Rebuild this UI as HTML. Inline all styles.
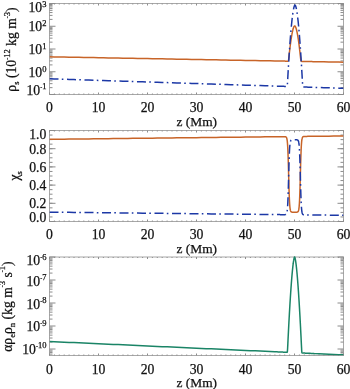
<!DOCTYPE html>
<html><head><meta charset="utf-8"><style>
html,body{margin:0;padding:0;background:#fff;}
svg{display:block;}
.t{font-family:"Liberation Serif","DejaVu Serif",serif;font-size:13.7px;fill:#111;stroke:#111;stroke-width:0.25px;}
.s{font-size:8.5px;}
.m{font-size:6px;}
</style></head><body>
<svg width="350" height="389" viewBox="0 0 350 389">
<rect width="350" height="389" fill="#fff"/>
<defs><clipPath id="c1"><rect x="49.5" y="2.5" width="294.0" height="92.0"/></clipPath><clipPath id="c2"><rect x="49.5" y="129.5" width="294.0" height="92.0"/></clipPath><clipPath id="c3"><rect x="49.5" y="256.0" width="294.0" height="99.5"/></clipPath></defs>
<rect x="49.5" y="3.5" width="294.0" height="91.0" fill="none" stroke="#a8a8a8" stroke-width="1"/>
<path d="M49.50,94.5v-2.0M49.50,3.5v2.0M54.40,94.5v-1.0M54.40,3.5v1.0M59.30,94.5v-1.0M59.30,3.5v1.0M64.20,94.5v-1.0M64.20,3.5v1.0M69.10,94.5v-1.0M69.10,3.5v1.0M74.00,94.5v-1.0M74.00,3.5v1.0M78.90,94.5v-1.0M78.90,3.5v1.0M83.80,94.5v-1.0M83.80,3.5v1.0M88.70,94.5v-1.0M88.70,3.5v1.0M93.60,94.5v-1.0M93.60,3.5v1.0M98.50,94.5v-2.0M98.50,3.5v2.0M103.40,94.5v-1.0M103.40,3.5v1.0M108.30,94.5v-1.0M108.30,3.5v1.0M113.20,94.5v-1.0M113.20,3.5v1.0M118.10,94.5v-1.0M118.10,3.5v1.0M123.00,94.5v-1.0M123.00,3.5v1.0M127.90,94.5v-1.0M127.90,3.5v1.0M132.80,94.5v-1.0M132.80,3.5v1.0M137.70,94.5v-1.0M137.70,3.5v1.0M142.60,94.5v-1.0M142.60,3.5v1.0M147.50,94.5v-2.0M147.50,3.5v2.0M152.40,94.5v-1.0M152.40,3.5v1.0M157.30,94.5v-1.0M157.30,3.5v1.0M162.20,94.5v-1.0M162.20,3.5v1.0M167.10,94.5v-1.0M167.10,3.5v1.0M172.00,94.5v-1.0M172.00,3.5v1.0M176.90,94.5v-1.0M176.90,3.5v1.0M181.80,94.5v-1.0M181.80,3.5v1.0M186.70,94.5v-1.0M186.70,3.5v1.0M191.60,94.5v-1.0M191.60,3.5v1.0M196.50,94.5v-2.0M196.50,3.5v2.0M201.40,94.5v-1.0M201.40,3.5v1.0M206.30,94.5v-1.0M206.30,3.5v1.0M211.20,94.5v-1.0M211.20,3.5v1.0M216.10,94.5v-1.0M216.10,3.5v1.0M221.00,94.5v-1.0M221.00,3.5v1.0M225.90,94.5v-1.0M225.90,3.5v1.0M230.80,94.5v-1.0M230.80,3.5v1.0M235.70,94.5v-1.0M235.70,3.5v1.0M240.60,94.5v-1.0M240.60,3.5v1.0M245.50,94.5v-2.0M245.50,3.5v2.0M250.40,94.5v-1.0M250.40,3.5v1.0M255.30,94.5v-1.0M255.30,3.5v1.0M260.20,94.5v-1.0M260.20,3.5v1.0M265.10,94.5v-1.0M265.10,3.5v1.0M270.00,94.5v-1.0M270.00,3.5v1.0M274.90,94.5v-1.0M274.90,3.5v1.0M279.80,94.5v-1.0M279.80,3.5v1.0M284.70,94.5v-1.0M284.70,3.5v1.0M289.60,94.5v-1.0M289.60,3.5v1.0M294.50,94.5v-2.0M294.50,3.5v2.0M299.40,94.5v-1.0M299.40,3.5v1.0M304.30,94.5v-1.0M304.30,3.5v1.0M309.20,94.5v-1.0M309.20,3.5v1.0M314.10,94.5v-1.0M314.10,3.5v1.0M319.00,94.5v-1.0M319.00,3.5v1.0M323.90,94.5v-1.0M323.90,3.5v1.0M328.80,94.5v-1.0M328.80,3.5v1.0M333.70,94.5v-1.0M333.70,3.5v1.0M338.60,94.5v-1.0M338.60,3.5v1.0M343.50,94.5v-2.0M343.50,3.5v2.0" stroke="#8c8c8c" stroke-width="1" fill="none"/>
<path d="M49.5,94.50h6M343.5,94.50h-6M49.5,71.75h6M343.5,71.75h-6M49.5,49.00h6M343.5,49.00h-6M49.5,26.25h6M343.5,26.25h-6M49.5,3.50h6M343.5,3.50h-6M49.5,87.65h3M343.5,87.65h-3M49.5,83.65h3M343.5,83.65h-3M49.5,80.80h3M343.5,80.80h-3M49.5,78.60h3M343.5,78.60h-3M49.5,76.80h3M343.5,76.80h-3M49.5,75.27h3M343.5,75.27h-3M49.5,73.95h3M343.5,73.95h-3M49.5,72.79h3M343.5,72.79h-3M49.5,64.90h3M343.5,64.90h-3M49.5,60.90h3M343.5,60.90h-3M49.5,58.05h3M343.5,58.05h-3M49.5,55.85h3M343.5,55.85h-3M49.5,54.05h3M343.5,54.05h-3M49.5,52.52h3M343.5,52.52h-3M49.5,51.20h3M343.5,51.20h-3M49.5,50.04h3M343.5,50.04h-3M49.5,42.15h3M343.5,42.15h-3M49.5,38.15h3M343.5,38.15h-3M49.5,35.30h3M343.5,35.30h-3M49.5,33.10h3M343.5,33.10h-3M49.5,31.30h3M343.5,31.30h-3M49.5,29.77h3M343.5,29.77h-3M49.5,28.45h3M343.5,28.45h-3M49.5,27.29h3M343.5,27.29h-3M49.5,19.40h3M343.5,19.40h-3M49.5,15.40h3M343.5,15.40h-3M49.5,12.55h3M343.5,12.55h-3M49.5,10.35h3M343.5,10.35h-3M49.5,8.55h3M343.5,8.55h-3M49.5,7.02h3M343.5,7.02h-3M49.5,5.70h3M343.5,5.70h-3M49.5,4.54h3M343.5,4.54h-3" stroke="#8c8c8c" stroke-width="1" fill="none"/>
<rect x="49.5" y="130.5" width="294.0" height="91.0" fill="none" stroke="#a8a8a8" stroke-width="1"/>
<path d="M49.50,221.5v-2.0M49.50,130.5v2.0M54.40,221.5v-1.0M54.40,130.5v1.0M59.30,221.5v-1.0M59.30,130.5v1.0M64.20,221.5v-1.0M64.20,130.5v1.0M69.10,221.5v-1.0M69.10,130.5v1.0M74.00,221.5v-1.0M74.00,130.5v1.0M78.90,221.5v-1.0M78.90,130.5v1.0M83.80,221.5v-1.0M83.80,130.5v1.0M88.70,221.5v-1.0M88.70,130.5v1.0M93.60,221.5v-1.0M93.60,130.5v1.0M98.50,221.5v-2.0M98.50,130.5v2.0M103.40,221.5v-1.0M103.40,130.5v1.0M108.30,221.5v-1.0M108.30,130.5v1.0M113.20,221.5v-1.0M113.20,130.5v1.0M118.10,221.5v-1.0M118.10,130.5v1.0M123.00,221.5v-1.0M123.00,130.5v1.0M127.90,221.5v-1.0M127.90,130.5v1.0M132.80,221.5v-1.0M132.80,130.5v1.0M137.70,221.5v-1.0M137.70,130.5v1.0M142.60,221.5v-1.0M142.60,130.5v1.0M147.50,221.5v-2.0M147.50,130.5v2.0M152.40,221.5v-1.0M152.40,130.5v1.0M157.30,221.5v-1.0M157.30,130.5v1.0M162.20,221.5v-1.0M162.20,130.5v1.0M167.10,221.5v-1.0M167.10,130.5v1.0M172.00,221.5v-1.0M172.00,130.5v1.0M176.90,221.5v-1.0M176.90,130.5v1.0M181.80,221.5v-1.0M181.80,130.5v1.0M186.70,221.5v-1.0M186.70,130.5v1.0M191.60,221.5v-1.0M191.60,130.5v1.0M196.50,221.5v-2.0M196.50,130.5v2.0M201.40,221.5v-1.0M201.40,130.5v1.0M206.30,221.5v-1.0M206.30,130.5v1.0M211.20,221.5v-1.0M211.20,130.5v1.0M216.10,221.5v-1.0M216.10,130.5v1.0M221.00,221.5v-1.0M221.00,130.5v1.0M225.90,221.5v-1.0M225.90,130.5v1.0M230.80,221.5v-1.0M230.80,130.5v1.0M235.70,221.5v-1.0M235.70,130.5v1.0M240.60,221.5v-1.0M240.60,130.5v1.0M245.50,221.5v-2.0M245.50,130.5v2.0M250.40,221.5v-1.0M250.40,130.5v1.0M255.30,221.5v-1.0M255.30,130.5v1.0M260.20,221.5v-1.0M260.20,130.5v1.0M265.10,221.5v-1.0M265.10,130.5v1.0M270.00,221.5v-1.0M270.00,130.5v1.0M274.90,221.5v-1.0M274.90,130.5v1.0M279.80,221.5v-1.0M279.80,130.5v1.0M284.70,221.5v-1.0M284.70,130.5v1.0M289.60,221.5v-1.0M289.60,130.5v1.0M294.50,221.5v-2.0M294.50,130.5v2.0M299.40,221.5v-1.0M299.40,130.5v1.0M304.30,221.5v-1.0M304.30,130.5v1.0M309.20,221.5v-1.0M309.20,130.5v1.0M314.10,221.5v-1.0M314.10,130.5v1.0M319.00,221.5v-1.0M319.00,130.5v1.0M323.90,221.5v-1.0M323.90,130.5v1.0M328.80,221.5v-1.0M328.80,130.5v1.0M333.70,221.5v-1.0M333.70,130.5v1.0M338.60,221.5v-1.0M338.60,130.5v1.0M343.50,221.5v-2.0M343.50,130.5v2.0" stroke="#8c8c8c" stroke-width="1" fill="none"/>
<path d="M49.5,221.50h6M343.5,221.50h-6M49.5,203.30h6M343.5,203.30h-6M49.5,185.10h6M343.5,185.10h-6M49.5,166.90h6M343.5,166.90h-6M49.5,148.70h6M343.5,148.70h-6M49.5,130.50h6M343.5,130.50h-6M49.5,221.50h3M343.5,221.50h-3M49.5,216.95h3M343.5,216.95h-3M49.5,212.40h3M343.5,212.40h-3M49.5,207.85h3M343.5,207.85h-3M49.5,203.30h3M343.5,203.30h-3M49.5,198.75h3M343.5,198.75h-3M49.5,194.20h3M343.5,194.20h-3M49.5,189.65h3M343.5,189.65h-3M49.5,185.10h3M343.5,185.10h-3M49.5,180.55h3M343.5,180.55h-3M49.5,176.00h3M343.5,176.00h-3M49.5,171.45h3M343.5,171.45h-3M49.5,166.90h3M343.5,166.90h-3M49.5,162.35h3M343.5,162.35h-3M49.5,157.80h3M343.5,157.80h-3M49.5,153.25h3M343.5,153.25h-3M49.5,148.70h3M343.5,148.70h-3M49.5,144.15h3M343.5,144.15h-3M49.5,139.60h3M343.5,139.60h-3M49.5,135.05h3M343.5,135.05h-3M49.5,130.50h3M343.5,130.50h-3" stroke="#8c8c8c" stroke-width="1" fill="none"/>
<rect x="49.5" y="257.0" width="294.0" height="98.5" fill="none" stroke="#a8a8a8" stroke-width="1"/>
<path d="M49.50,355.5v-2.0M49.50,257.0v2.0M54.40,355.5v-1.0M54.40,257.0v1.0M59.30,355.5v-1.0M59.30,257.0v1.0M64.20,355.5v-1.0M64.20,257.0v1.0M69.10,355.5v-1.0M69.10,257.0v1.0M74.00,355.5v-1.0M74.00,257.0v1.0M78.90,355.5v-1.0M78.90,257.0v1.0M83.80,355.5v-1.0M83.80,257.0v1.0M88.70,355.5v-1.0M88.70,257.0v1.0M93.60,355.5v-1.0M93.60,257.0v1.0M98.50,355.5v-2.0M98.50,257.0v2.0M103.40,355.5v-1.0M103.40,257.0v1.0M108.30,355.5v-1.0M108.30,257.0v1.0M113.20,355.5v-1.0M113.20,257.0v1.0M118.10,355.5v-1.0M118.10,257.0v1.0M123.00,355.5v-1.0M123.00,257.0v1.0M127.90,355.5v-1.0M127.90,257.0v1.0M132.80,355.5v-1.0M132.80,257.0v1.0M137.70,355.5v-1.0M137.70,257.0v1.0M142.60,355.5v-1.0M142.60,257.0v1.0M147.50,355.5v-2.0M147.50,257.0v2.0M152.40,355.5v-1.0M152.40,257.0v1.0M157.30,355.5v-1.0M157.30,257.0v1.0M162.20,355.5v-1.0M162.20,257.0v1.0M167.10,355.5v-1.0M167.10,257.0v1.0M172.00,355.5v-1.0M172.00,257.0v1.0M176.90,355.5v-1.0M176.90,257.0v1.0M181.80,355.5v-1.0M181.80,257.0v1.0M186.70,355.5v-1.0M186.70,257.0v1.0M191.60,355.5v-1.0M191.60,257.0v1.0M196.50,355.5v-2.0M196.50,257.0v2.0M201.40,355.5v-1.0M201.40,257.0v1.0M206.30,355.5v-1.0M206.30,257.0v1.0M211.20,355.5v-1.0M211.20,257.0v1.0M216.10,355.5v-1.0M216.10,257.0v1.0M221.00,355.5v-1.0M221.00,257.0v1.0M225.90,355.5v-1.0M225.90,257.0v1.0M230.80,355.5v-1.0M230.80,257.0v1.0M235.70,355.5v-1.0M235.70,257.0v1.0M240.60,355.5v-1.0M240.60,257.0v1.0M245.50,355.5v-2.0M245.50,257.0v2.0M250.40,355.5v-1.0M250.40,257.0v1.0M255.30,355.5v-1.0M255.30,257.0v1.0M260.20,355.5v-1.0M260.20,257.0v1.0M265.10,355.5v-1.0M265.10,257.0v1.0M270.00,355.5v-1.0M270.00,257.0v1.0M274.90,355.5v-1.0M274.90,257.0v1.0M279.80,355.5v-1.0M279.80,257.0v1.0M284.70,355.5v-1.0M284.70,257.0v1.0M289.60,355.5v-1.0M289.60,257.0v1.0M294.50,355.5v-2.0M294.50,257.0v2.0M299.40,355.5v-1.0M299.40,257.0v1.0M304.30,355.5v-1.0M304.30,257.0v1.0M309.20,355.5v-1.0M309.20,257.0v1.0M314.10,355.5v-1.0M314.10,257.0v1.0M319.00,355.5v-1.0M319.00,257.0v1.0M323.90,355.5v-1.0M323.90,257.0v1.0M328.80,355.5v-1.0M328.80,257.0v1.0M333.70,355.5v-1.0M333.70,257.0v1.0M338.60,355.5v-1.0M338.60,257.0v1.0M343.50,355.5v-2.0M343.50,257.0v2.0" stroke="#8c8c8c" stroke-width="1" fill="none"/>
<path d="M49.5,349.00h6M343.5,349.00h-6M49.5,326.00h6M343.5,326.00h-6M49.5,303.00h6M343.5,303.00h-6M49.5,280.00h6M343.5,280.00h-6M49.5,257.00h6M343.5,257.00h-6M49.5,354.10h3M343.5,354.10h-3M49.5,352.56h3M343.5,352.56h-3M49.5,351.23h3M343.5,351.23h-3M49.5,350.05h3M343.5,350.05h-3M49.5,342.08h3M343.5,342.08h-3M49.5,338.03h3M343.5,338.03h-3M49.5,335.15h3M343.5,335.15h-3M49.5,332.92h3M343.5,332.92h-3M49.5,331.10h3M343.5,331.10h-3M49.5,329.56h3M343.5,329.56h-3M49.5,328.23h3M343.5,328.23h-3M49.5,327.05h3M343.5,327.05h-3M49.5,319.08h3M343.5,319.08h-3M49.5,315.03h3M343.5,315.03h-3M49.5,312.15h3M343.5,312.15h-3M49.5,309.92h3M343.5,309.92h-3M49.5,308.10h3M343.5,308.10h-3M49.5,306.56h3M343.5,306.56h-3M49.5,305.23h3M343.5,305.23h-3M49.5,304.05h3M343.5,304.05h-3M49.5,296.08h3M343.5,296.08h-3M49.5,292.03h3M343.5,292.03h-3M49.5,289.15h3M343.5,289.15h-3M49.5,286.92h3M343.5,286.92h-3M49.5,285.10h3M343.5,285.10h-3M49.5,283.56h3M343.5,283.56h-3M49.5,282.23h3M343.5,282.23h-3M49.5,281.05h3M343.5,281.05h-3M49.5,273.08h3M343.5,273.08h-3M49.5,269.03h3M343.5,269.03h-3M49.5,266.15h3M343.5,266.15h-3M49.5,263.92h3M343.5,263.92h-3M49.5,262.10h3M343.5,262.10h-3M49.5,260.56h3M343.5,260.56h-3M49.5,259.23h3M343.5,259.23h-3M49.5,258.05h3M343.5,258.05h-3" stroke="#8c8c8c" stroke-width="1" fill="none"/>
<g clip-path="url(#c1)" fill="none" stroke-width="1.5" stroke-linejoin="round"><path d="M49.50,56.80 L54.40,56.89 L59.30,56.98 L64.20,57.07 L69.10,57.16 L74.00,57.25 L78.90,57.34 L83.80,57.43 L88.70,57.52 L93.60,57.61 L98.50,57.70 L103.40,57.79 L108.30,57.88 L113.20,57.97 L118.10,58.06 L123.00,58.15 L127.90,58.24 L132.80,58.33 L137.70,58.42 L142.60,58.51 L147.50,58.60 L152.40,58.69 L157.30,58.78 L162.20,58.87 L167.10,58.96 L172.00,59.05 L176.90,59.14 L181.80,59.23 L186.70,59.32 L191.60,59.41 L196.50,59.50 L201.40,59.59 L206.30,59.68 L211.20,59.77 L216.10,59.86 L221.00,59.95 L225.90,60.04 L230.80,60.13 L235.70,60.22 L240.60,60.31 L245.50,60.40 L250.40,60.49 L255.30,60.58 L260.20,60.67 L265.10,60.76 L270.00,60.85 L274.90,60.94 L274.95,60.94 L275.00,60.94 L275.05,60.94 L275.10,60.94 L275.14,60.94 L275.19,60.94 L275.24,60.94 L275.29,60.94 L275.34,60.95 L275.39,60.95 L275.44,60.95 L275.49,60.95 L275.54,60.95 L275.59,60.95 L275.63,60.95 L275.68,60.95 L275.73,60.95 L275.78,60.95 L275.83,60.95 L275.88,60.95 L275.93,60.96 L275.98,60.96 L276.03,60.96 L276.08,60.96 L276.12,60.96 L276.17,60.96 L276.22,60.96 L276.27,60.96 L276.32,60.96 L276.37,60.96 L276.42,60.96 L276.47,60.97 L276.52,60.97 L276.57,60.97 L276.62,60.97 L276.66,60.97 L276.71,60.97 L276.76,60.97 L276.81,60.97 L276.86,60.97 L276.91,60.97 L276.96,60.97 L277.01,60.98 L277.06,60.98 L277.11,60.98 L277.15,60.98 L277.20,60.98 L277.25,60.98 L277.30,60.98 L277.35,60.98 L277.40,60.98 L277.45,60.98 L277.50,60.98 L277.55,60.99 L277.60,60.99 L277.64,60.99 L277.69,60.99 L277.74,60.99 L277.79,60.99 L277.84,60.99 L277.89,60.99 L277.94,60.99 L277.99,60.99 L278.04,60.99 L278.09,61.00 L278.13,61.00 L278.18,61.00 L278.23,61.00 L278.28,61.00 L278.33,61.00 L278.38,61.00 L278.43,61.00 L278.48,61.00 L278.53,61.00 L278.58,61.00 L278.62,61.01 L278.67,61.01 L278.72,61.01 L278.77,61.01 L278.82,61.01 L278.87,61.01 L278.92,61.01 L278.97,61.01 L279.02,61.01 L279.07,61.01 L279.11,61.01 L279.16,61.02 L279.21,61.02 L279.26,61.02 L279.31,61.02 L279.36,61.02 L279.41,61.02 L279.46,61.02 L279.51,61.02 L279.56,61.02 L279.60,61.02 L279.65,61.02 L279.70,61.02 L279.75,61.03 L279.80,61.03 L279.85,61.03 L279.90,61.03 L279.95,61.03 L280.00,61.03 L280.05,61.03 L280.09,61.03 L280.14,61.03 L280.19,61.03 L280.24,61.03 L280.29,61.04 L280.34,61.04 L280.39,61.04 L280.44,61.04 L280.49,61.04 L280.53,61.04 L280.58,61.04 L280.63,61.04 L280.68,61.04 L280.73,61.04 L280.78,61.04 L280.83,61.05 L280.88,61.05 L280.93,61.05 L280.98,61.05 L281.02,61.05 L281.07,61.05 L281.12,61.05 L281.17,61.05 L281.22,61.05 L281.27,61.05 L281.32,61.05 L281.37,61.06 L281.42,61.06 L281.47,61.06 L281.51,61.06 L281.56,61.06 L281.61,61.06 L281.66,61.06 L281.71,61.06 L281.76,61.06 L281.81,61.06 L281.86,61.06 L281.91,61.07 L281.96,61.07 L282.00,61.07 L282.05,61.07 L282.10,61.07 L282.15,61.07 L282.20,61.07 L282.25,61.07 L282.30,61.07 L282.35,61.07 L282.40,61.07 L282.45,61.08 L282.50,61.08 L282.54,61.08 L282.59,61.08 L282.64,61.08 L282.69,61.08 L282.74,61.08 L282.79,61.08 L282.84,61.08 L282.89,61.08 L282.94,61.08 L282.99,61.09 L283.03,61.09 L283.08,61.09 L283.13,61.09 L283.18,61.09 L283.23,61.09 L283.28,61.09 L283.33,61.09 L283.38,61.09 L283.43,61.09 L283.48,61.09 L283.52,61.10 L283.57,61.10 L283.62,61.10 L283.67,61.10 L283.72,61.10 L283.77,61.10 L283.82,61.10 L283.87,61.10 L283.92,61.10 L283.97,61.10 L284.01,61.10 L284.06,61.10 L284.11,61.11 L284.16,61.11 L284.21,61.11 L284.26,61.11 L284.31,61.11 L284.36,61.11 L284.41,61.11 L284.46,61.11 L284.50,61.11 L284.55,61.11 L284.60,61.11 L284.65,61.12 L284.70,61.12 L284.75,61.12 L284.80,61.12 L284.85,61.12 L284.90,61.12 L284.94,61.12 L284.99,61.12 L285.04,61.12 L285.09,61.12 L285.14,61.12 L285.19,61.13 L285.24,61.13 L285.29,61.13 L285.34,61.13 L285.39,61.13 L285.44,61.13 L285.48,61.13 L285.53,61.13 L285.58,61.13 L285.63,61.13 L285.68,61.13 L285.73,61.14 L285.78,61.14 L285.83,61.14 L285.88,61.14 L285.93,61.14 L285.97,61.14 L286.02,61.14 L286.07,61.14 L286.12,61.14 L286.17,61.14 L286.22,61.14 L286.27,61.15 L286.32,61.15 L286.37,61.15 L286.42,61.15 L286.46,61.15 L286.51,61.15 L286.56,61.15 L286.61,61.15 L286.66,61.15 L286.71,61.15 L286.76,61.15 L286.81,61.16 L286.86,61.16 L286.91,61.16 L286.95,61.16 L287.00,61.16 L287.05,61.16 L287.10,61.16 L287.15,61.16 L287.20,61.16 L287.25,61.16 L287.30,61.16 L287.35,61.16 L287.39,61.16 L287.44,61.16 L287.49,61.16 L287.54,61.16 L287.59,61.16 L287.64,61.16 L287.69,61.15 L287.74,61.15 L287.79,61.14 L287.84,61.13 L287.88,61.12 L287.93,61.10 L287.98,61.08 L288.03,61.05 L288.08,61.01 L288.13,60.97 L288.18,60.91 L288.23,60.83 L288.28,60.73 L288.33,60.62 L288.38,60.48 L288.42,60.31 L288.47,60.11 L288.52,59.88 L288.57,59.62 L288.62,59.33 L288.67,59.02 L288.72,58.67 L288.77,58.31 L288.82,57.92 L288.87,57.52 L288.91,57.11 L288.96,56.68 L289.01,56.25 L289.06,55.82 L289.11,55.38 L289.16,54.93 L289.21,54.49 L289.26,54.04 L289.31,53.60 L289.36,53.15 L289.40,52.71 L289.45,52.27 L289.50,51.83 L289.55,51.40 L289.60,50.97 L289.65,50.54 L289.70,50.11 L289.75,49.68 L289.80,49.26 L289.85,48.85 L289.89,48.43 L289.94,48.02 L289.99,47.61 L290.04,47.21 L290.09,46.81 L290.14,46.41 L290.19,46.01 L290.24,45.62 L290.29,45.23 L290.34,44.85 L290.38,44.47 L290.43,44.09 L290.48,43.71 L290.53,43.34 L290.58,42.98 L290.63,42.61 L290.68,42.25 L290.73,41.89 L290.78,41.54 L290.83,41.19 L290.87,40.84 L290.92,40.50 L290.97,40.16 L291.02,39.83 L291.07,39.49 L291.12,39.17 L291.17,38.84 L291.22,38.52 L291.27,38.20 L291.32,37.89 L291.36,37.58 L291.41,37.27 L291.46,36.97 L291.51,36.67 L291.56,36.37 L291.61,36.08 L291.66,35.79 L291.71,35.50 L291.76,35.22 L291.81,34.95 L291.85,34.67 L291.90,34.40 L291.95,34.14 L292.00,33.87 L292.05,33.61 L292.10,33.36 L292.15,33.11 L292.20,32.86 L292.25,32.62 L292.30,32.38 L292.34,32.14 L292.39,31.91 L292.44,31.68 L292.49,31.46 L292.54,31.24 L292.59,31.02 L292.64,30.81 L292.69,30.60 L292.74,30.40 L292.78,30.20 L292.83,30.00 L292.88,29.81 L292.93,29.62 L292.98,29.44 L293.03,29.26 L293.08,29.08 L293.13,28.91 L293.18,28.75 L293.23,28.58 L293.27,28.43 L293.32,28.27 L293.37,28.12 L293.42,27.98 L293.47,27.84 L293.52,27.70 L293.57,27.57 L293.62,27.44 L293.67,27.32 L293.72,27.20 L293.76,27.08 L293.81,26.98 L293.86,26.87 L293.91,26.77 L293.96,26.68 L294.01,26.59 L294.06,26.50 L294.11,26.42 L294.16,26.35 L294.21,26.28 L294.25,26.22 L294.30,26.16 L294.35,26.10 L294.40,26.06 L294.45,26.02 L294.50,25.98 L294.55,25.95 L294.60,25.93 L294.65,25.91 L294.70,25.91 L294.75,25.91 L294.79,25.93 L294.84,25.95 L294.89,25.98 L294.94,26.02 L294.99,26.06 L295.04,26.10 L295.09,26.16 L295.14,26.22 L295.19,26.28 L295.24,26.35 L295.28,26.42 L295.33,26.50 L295.38,26.59 L295.43,26.68 L295.48,26.77 L295.53,26.87 L295.58,26.98 L295.63,27.08 L295.68,27.20 L295.73,27.32 L295.77,27.44 L295.82,27.57 L295.87,27.70 L295.92,27.84 L295.97,27.98 L296.02,28.12 L296.07,28.27 L296.12,28.43 L296.17,28.58 L296.22,28.75 L296.26,28.91 L296.31,29.08 L296.36,29.26 L296.41,29.44 L296.46,29.62 L296.51,29.81 L296.56,30.00 L296.61,30.20 L296.66,30.40 L296.71,30.60 L296.75,30.81 L296.80,31.02 L296.85,31.24 L296.90,31.46 L296.95,31.68 L297.00,31.91 L297.05,32.14 L297.10,32.38 L297.15,32.62 L297.19,32.86 L297.24,33.11 L297.29,33.36 L297.34,33.61 L297.39,33.87 L297.44,34.14 L297.49,34.40 L297.54,34.67 L297.59,34.95 L297.64,35.22 L297.69,35.50 L297.73,35.79 L297.78,36.08 L297.83,36.37 L297.88,36.67 L297.93,36.97 L297.98,37.27 L298.03,37.58 L298.08,37.89 L298.13,38.20 L298.18,38.52 L298.22,38.84 L298.27,39.17 L298.32,39.49 L298.37,39.83 L298.42,40.16 L298.47,40.50 L298.52,40.84 L298.57,41.19 L298.62,41.54 L298.67,41.89 L298.71,42.25 L298.76,42.61 L298.81,42.98 L298.86,43.34 L298.91,43.71 L298.96,44.09 L299.01,44.47 L299.06,44.85 L299.11,45.23 L299.16,45.62 L299.20,46.01 L299.25,46.41 L299.30,46.81 L299.35,47.21 L299.40,47.61 L299.45,48.02 L299.50,48.43 L299.55,48.85 L299.60,49.26 L299.64,49.69 L299.69,50.11 L299.74,50.54 L299.79,50.97 L299.84,51.40 L299.89,51.84 L299.94,52.27 L299.99,52.71 L300.04,53.16 L300.09,53.60 L300.13,54.05 L300.18,54.49 L300.23,54.94 L300.28,55.39 L300.33,55.83 L300.38,56.27 L300.43,56.71 L300.48,57.13 L300.53,57.55 L300.58,57.96 L300.62,58.36 L300.67,58.73 L300.72,59.09 L300.77,59.42 L300.82,59.72 L300.87,60.00 L300.92,60.24 L300.97,60.45 L301.02,60.64 L301.07,60.79 L301.12,60.92 L301.16,61.03 L301.21,61.11 L301.26,61.18 L301.31,61.24 L301.36,61.28 L301.41,61.31 L301.46,61.34 L301.51,61.36 L301.56,61.38 L301.61,61.39 L301.65,61.40 L301.70,61.41 L301.75,61.41 L301.80,61.42 L301.85,61.42 L301.90,61.43 L301.95,61.43 L302.00,61.43 L302.05,61.43 L302.10,61.43 L302.14,61.43 L302.19,61.44 L302.24,61.44 L302.29,61.44 L302.34,61.44 L302.39,61.44 L302.44,61.44 L302.49,61.44 L302.54,61.44 L302.59,61.44 L302.63,61.45 L302.68,61.45 L302.73,61.45 L302.78,61.45 L302.83,61.45 L302.88,61.45 L302.93,61.45 L302.98,61.45 L303.03,61.45 L303.08,61.45 L303.12,61.45 L303.17,61.46 L303.22,61.46 L303.27,61.46 L303.32,61.46 L303.37,61.46 L303.42,61.46 L303.47,61.46 L303.52,61.46 L303.57,61.46 L303.61,61.46 L303.66,61.46 L303.71,61.47 L303.76,61.47 L303.81,61.47 L303.86,61.47 L303.91,61.47 L303.96,61.47 L304.01,61.47 L304.06,61.47 L304.10,61.47 L304.15,61.47 L304.20,61.47 L304.25,61.48 L304.30,61.48 L304.35,61.48 L304.40,61.48 L304.45,61.48 L304.50,61.48 L304.55,61.48 L304.59,61.48 L304.64,61.48 L304.69,61.48 L304.74,61.48 L304.79,61.49 L304.84,61.49 L304.89,61.49 L304.94,61.49 L304.99,61.49 L305.04,61.49 L305.08,61.49 L305.13,61.49 L305.18,61.49 L305.23,61.49 L305.28,61.49 L305.33,61.49 L305.38,61.50 L305.43,61.50 L305.48,61.50 L305.53,61.50 L305.57,61.50 L305.62,61.50 L305.67,61.50 L305.72,61.50 L305.77,61.50 L305.82,61.50 L305.87,61.50 L305.92,61.51 L305.97,61.51 L306.02,61.51 L306.06,61.51 L306.11,61.51 L306.16,61.51 L306.21,61.51 L306.26,61.51 L306.31,61.51 L306.36,61.51 L306.41,61.51 L306.46,61.52 L306.51,61.52 L306.55,61.52 L306.60,61.52 L306.65,61.52 L306.70,61.52 L306.75,61.52 L306.80,61.52 L306.85,61.52 L306.90,61.52 L306.95,61.52 L307.00,61.53 L307.04,61.53 L307.09,61.53 L307.14,61.53 L307.19,61.53 L307.24,61.53 L307.29,61.53 L307.34,61.53 L307.39,61.53 L307.44,61.53 L307.49,61.53 L307.53,61.54 L307.58,61.54 L307.63,61.54 L307.68,61.54 L307.73,61.54 L307.78,61.54 L307.83,61.54 L307.88,61.54 L307.93,61.54 L307.98,61.54 L308.02,61.54 L308.07,61.55 L308.12,61.55 L308.17,61.55 L308.22,61.55 L308.27,61.55 L308.32,61.55 L308.37,61.55 L308.42,61.55 L308.47,61.55 L308.51,61.55 L308.56,61.55 L308.61,61.56 L308.66,61.56 L308.71,61.56 L308.76,61.56 L308.81,61.56 L308.86,61.56 L308.91,61.56 L308.96,61.56 L309.00,61.56 L309.05,61.56 L309.10,61.56 L309.15,61.57 L309.20,61.57 L309.25,61.57 L309.30,61.57 L309.35,61.57 L309.40,61.57 L309.44,61.57 L309.49,61.57 L309.54,61.57 L309.59,61.57 L309.64,61.57 L309.69,61.57 L309.74,61.58 L309.79,61.58 L309.84,61.58 L309.89,61.58 L309.94,61.58 L309.98,61.58 L310.03,61.58 L310.08,61.58 L310.13,61.58 L310.18,61.58 L310.23,61.58 L310.28,61.59 L310.33,61.59 L310.38,61.59 L310.43,61.59 L310.47,61.59 L310.52,61.59 L310.57,61.59 L310.62,61.59 L310.67,61.59 L310.72,61.59 L310.77,61.59 L310.82,61.60 L310.87,61.60 L310.92,61.60 L310.96,61.60 L311.01,61.60 L311.06,61.60 L311.11,61.60 L311.16,61.60 L311.21,61.60 L311.26,61.60 L311.31,61.60 L311.36,61.61 L311.41,61.61 L311.45,61.61 L311.50,61.61 L311.55,61.61 L311.60,61.61 L311.65,61.61 L311.70,61.61 L311.75,61.61 L311.80,61.61 L311.85,61.61 L311.89,61.62 L311.94,61.62 L311.99,61.62 L312.04,61.62 L312.09,61.62 L312.14,61.62 L312.19,61.62 L312.24,61.62 L312.29,61.62 L312.34,61.62 L312.38,61.62 L312.43,61.63 L312.48,61.63 L312.53,61.63 L312.58,61.63 L312.63,61.63 L312.68,61.63 L312.73,61.63 L312.78,61.63 L312.83,61.63 L312.88,61.63 L312.92,61.63 L312.97,61.64 L313.02,61.64 L313.07,61.64 L313.12,61.64 L313.17,61.64 L313.22,61.64 L313.27,61.64 L313.32,61.64 L313.37,61.64 L313.41,61.64 L313.46,61.64 L313.51,61.65 L313.56,61.65 L313.61,61.65 L313.66,61.65 L313.71,61.65 L313.76,61.65 L313.81,61.65 L313.86,61.65 L313.90,61.65 L313.95,61.65 L314.00,61.65 L314.05,61.65 L314.10,61.66 L319.00,61.75 L323.90,61.84 L328.80,61.93 L333.70,62.02 L338.60,62.11 L343.50,62.20" stroke="#c86428"/><path d="M49.50,78.80 L54.40,78.96 L59.30,79.12 L64.20,79.28 L69.10,79.43 L74.00,79.59 L78.90,79.75 L83.80,79.91 L88.70,80.07 L93.60,80.23 L98.50,80.38 L103.40,80.54 L108.30,80.70 L113.20,80.86 L118.10,81.02 L123.00,81.17 L127.90,81.33 L132.80,81.49 L137.70,81.65 L142.60,81.81 L147.50,81.96 L152.40,82.12 L157.30,82.28 L162.20,82.44 L167.10,82.60 L172.00,82.76 L176.90,82.91 L181.80,83.07 L186.70,83.23 L191.60,83.39 L196.50,83.55 L201.40,83.70 L206.30,83.86 L211.20,84.02 L216.10,84.18 L221.00,84.34 L225.90,84.49 L230.80,84.65 L235.70,84.81 L240.60,84.97 L245.50,85.13 L250.40,85.29 L255.30,85.44 L260.20,85.60 L265.10,85.76 L270.00,85.92 L274.90,86.08 L274.95,86.08 L275.00,86.08 L275.05,86.08 L275.10,86.08 L275.14,86.08 L275.19,86.09 L275.24,86.09 L275.29,86.09 L275.34,86.09 L275.39,86.09 L275.44,86.09 L275.49,86.09 L275.54,86.10 L275.59,86.10 L275.63,86.10 L275.68,86.10 L275.73,86.10 L275.78,86.10 L275.83,86.11 L275.88,86.11 L275.93,86.11 L275.98,86.11 L276.03,86.11 L276.08,86.11 L276.12,86.12 L276.17,86.12 L276.22,86.12 L276.27,86.12 L276.32,86.12 L276.37,86.12 L276.42,86.12 L276.47,86.13 L276.52,86.13 L276.57,86.13 L276.62,86.13 L276.66,86.13 L276.71,86.13 L276.76,86.14 L276.81,86.14 L276.86,86.14 L276.91,86.14 L276.96,86.14 L277.01,86.14 L277.06,86.15 L277.11,86.15 L277.15,86.15 L277.20,86.15 L277.25,86.15 L277.30,86.15 L277.35,86.15 L277.40,86.16 L277.45,86.16 L277.50,86.16 L277.55,86.16 L277.60,86.16 L277.64,86.16 L277.69,86.17 L277.74,86.17 L277.79,86.17 L277.84,86.17 L277.89,86.17 L277.94,86.17 L277.99,86.18 L278.04,86.18 L278.09,86.18 L278.13,86.18 L278.18,86.18 L278.23,86.18 L278.28,86.18 L278.33,86.19 L278.38,86.19 L278.43,86.19 L278.48,86.19 L278.53,86.19 L278.58,86.19 L278.62,86.20 L278.67,86.20 L278.72,86.20 L278.77,86.20 L278.82,86.20 L278.87,86.20 L278.92,86.21 L278.97,86.21 L279.02,86.21 L279.07,86.21 L279.11,86.21 L279.16,86.21 L279.21,86.21 L279.26,86.22 L279.31,86.22 L279.36,86.22 L279.41,86.22 L279.46,86.22 L279.51,86.22 L279.56,86.23 L279.60,86.23 L279.65,86.23 L279.70,86.23 L279.75,86.23 L279.80,86.23 L279.85,86.24 L279.90,86.24 L279.95,86.24 L280.00,86.24 L280.05,86.24 L280.09,86.24 L280.14,86.24 L280.19,86.25 L280.24,86.25 L280.29,86.25 L280.34,86.25 L280.39,86.25 L280.44,86.25 L280.49,86.26 L280.53,86.26 L280.58,86.26 L280.63,86.26 L280.68,86.26 L280.73,86.26 L280.78,86.27 L280.83,86.27 L280.88,86.27 L280.93,86.27 L280.98,86.27 L281.02,86.27 L281.07,86.27 L281.12,86.28 L281.17,86.28 L281.22,86.28 L281.27,86.28 L281.32,86.28 L281.37,86.28 L281.42,86.29 L281.47,86.29 L281.51,86.29 L281.56,86.29 L281.61,86.29 L281.66,86.29 L281.71,86.30 L281.76,86.30 L281.81,86.30 L281.86,86.30 L281.91,86.30 L281.96,86.30 L282.00,86.30 L282.05,86.31 L282.10,86.31 L282.15,86.31 L282.20,86.31 L282.25,86.31 L282.30,86.31 L282.35,86.32 L282.40,86.32 L282.45,86.32 L282.50,86.32 L282.54,86.32 L282.59,86.32 L282.64,86.33 L282.69,86.33 L282.74,86.33 L282.79,86.33 L282.84,86.33 L282.89,86.33 L282.94,86.33 L282.99,86.34 L283.03,86.34 L283.08,86.34 L283.13,86.34 L283.18,86.34 L283.23,86.34 L283.28,86.35 L283.33,86.35 L283.38,86.35 L283.43,86.35 L283.48,86.35 L283.52,86.35 L283.57,86.36 L283.62,86.36 L283.67,86.36 L283.72,86.36 L283.77,86.36 L283.82,86.36 L283.87,86.37 L283.92,86.37 L283.97,86.37 L284.01,86.37 L284.06,86.37 L284.11,86.37 L284.16,86.37 L284.21,86.38 L284.26,86.38 L284.31,86.38 L284.36,86.38 L284.41,86.38 L284.46,86.38 L284.50,86.39 L284.55,86.39 L284.60,86.39 L284.65,86.39 L284.70,86.39 L284.75,86.39 L284.80,86.40 L284.85,86.40 L284.90,86.40 L284.94,86.40 L284.99,86.40 L285.04,86.40 L285.09,86.40 L285.14,86.41 L285.19,86.41 L285.24,86.41 L285.29,86.41 L285.34,86.41 L285.39,86.41 L285.44,86.42 L285.48,86.42 L285.53,86.42 L285.58,86.42 L285.63,86.42 L285.68,86.42 L285.73,86.43 L285.78,86.43 L285.83,86.43 L285.88,86.43 L285.93,86.43 L285.97,86.43 L286.02,86.43 L286.07,86.44 L286.12,86.44 L286.17,86.44 L286.22,86.44 L286.27,86.44 L286.32,86.44 L286.37,86.45 L286.42,86.45 L286.46,86.45 L286.51,86.45 L286.56,86.45 L286.61,86.45 L286.66,86.45 L286.71,86.45 L286.76,86.45 L286.81,86.45 L286.86,86.44 L286.91,86.43 L286.95,86.41 L287.00,86.38 L287.05,86.33 L287.10,86.25 L287.15,86.13 L287.20,85.95 L287.25,85.69 L287.30,85.33 L287.35,84.86 L287.39,84.29 L287.44,83.62 L287.49,82.88 L287.54,82.09 L287.59,81.26 L287.64,80.40 L287.69,79.54 L287.74,78.66 L287.79,77.78 L287.84,76.90 L287.88,76.02 L287.93,75.15 L287.98,74.28 L288.03,73.41 L288.08,72.55 L288.13,71.69 L288.18,70.84 L288.23,69.99 L288.28,69.14 L288.33,68.31 L288.38,67.47 L288.42,66.64 L288.47,65.82 L288.52,65.00 L288.57,64.18 L288.62,63.37 L288.67,62.57 L288.72,61.77 L288.77,60.98 L288.82,60.19 L288.87,59.40 L288.91,58.62 L288.96,57.85 L289.01,57.08 L289.06,56.31 L289.11,55.55 L289.16,54.80 L289.21,54.05 L289.26,53.31 L289.31,52.57 L289.36,51.83 L289.40,51.10 L289.45,50.38 L289.50,49.66 L289.55,48.95 L289.60,48.24 L289.65,47.54 L289.70,46.84 L289.75,46.14 L289.80,45.46 L289.85,44.77 L289.89,44.10 L289.94,43.42 L289.99,42.76 L290.04,42.09 L290.09,41.44 L290.14,40.79 L290.19,40.14 L290.24,39.50 L290.29,38.86 L290.34,38.23 L290.38,37.61 L290.43,36.99 L290.48,36.37 L290.53,35.76 L290.58,35.16 L290.63,34.56 L290.68,33.97 L290.73,33.38 L290.78,32.80 L290.83,32.22 L290.87,31.65 L290.92,31.08 L290.97,30.52 L291.02,29.96 L291.07,29.41 L291.12,28.87 L291.17,28.33 L291.22,27.80 L291.27,27.27 L291.32,26.75 L291.36,26.23 L291.41,25.72 L291.46,25.21 L291.51,24.71 L291.56,24.22 L291.61,23.73 L291.66,23.25 L291.71,22.77 L291.76,22.30 L291.81,21.83 L291.85,21.37 L291.90,20.91 L291.95,20.46 L292.00,20.02 L292.05,19.58 L292.10,19.15 L292.15,18.73 L292.20,18.31 L292.25,17.89 L292.30,17.48 L292.34,17.08 L292.39,16.68 L292.44,16.29 L292.49,15.91 L292.54,15.53 L292.59,15.16 L292.64,14.79 L292.69,14.43 L292.74,14.08 L292.78,13.73 L292.83,13.38 L292.88,13.05 L292.93,12.72 L292.98,12.39 L293.03,12.08 L293.08,11.77 L293.13,11.46 L293.18,11.16 L293.23,10.87 L293.27,10.58 L293.32,10.31 L293.37,10.03 L293.42,9.77 L293.47,9.51 L293.52,9.25 L293.57,9.01 L293.62,8.77 L293.67,8.54 L293.72,8.31 L293.76,8.09 L293.81,7.88 L293.86,7.67 L293.91,7.47 L293.96,7.28 L294.01,7.10 L294.06,6.92 L294.11,6.75 L294.16,6.59 L294.21,6.43 L294.25,6.29 L294.30,6.15 L294.35,6.02 L294.40,5.89 L294.45,5.78 L294.50,5.67 L294.55,5.57 L294.60,5.48 L294.65,5.40 L294.70,5.32 L294.75,5.26 L294.79,5.20 L294.84,5.16 L294.89,5.12 L294.94,5.10 L294.99,5.09 L295.04,5.10 L295.09,5.12 L295.14,5.16 L295.19,5.20 L295.24,5.26 L295.28,5.32 L295.33,5.40 L295.38,5.48 L295.43,5.57 L295.48,5.67 L295.53,5.78 L295.58,5.89 L295.63,6.02 L295.68,6.15 L295.73,6.29 L295.77,6.43 L295.82,6.59 L295.87,6.75 L295.92,6.92 L295.97,7.10 L296.02,7.28 L296.07,7.47 L296.12,7.67 L296.17,7.88 L296.22,8.09 L296.26,8.31 L296.31,8.54 L296.36,8.77 L296.41,9.01 L296.46,9.25 L296.51,9.51 L296.56,9.77 L296.61,10.03 L296.66,10.31 L296.71,10.58 L296.75,10.87 L296.80,11.16 L296.85,11.46 L296.90,11.77 L296.95,12.08 L297.00,12.39 L297.05,12.72 L297.10,13.05 L297.15,13.38 L297.19,13.73 L297.24,14.08 L297.29,14.43 L297.34,14.79 L297.39,15.16 L297.44,15.53 L297.49,15.91 L297.54,16.29 L297.59,16.68 L297.64,17.08 L297.69,17.48 L297.73,17.89 L297.78,18.31 L297.83,18.73 L297.88,19.15 L297.93,19.58 L297.98,20.02 L298.03,20.46 L298.08,20.91 L298.13,21.37 L298.18,21.83 L298.22,22.30 L298.27,22.77 L298.32,23.25 L298.37,23.73 L298.42,24.22 L298.47,24.71 L298.52,25.21 L298.57,25.72 L298.62,26.23 L298.67,26.75 L298.71,27.27 L298.76,27.80 L298.81,28.33 L298.86,28.87 L298.91,29.41 L298.96,29.96 L299.01,30.52 L299.06,31.08 L299.11,31.65 L299.16,32.22 L299.20,32.80 L299.25,33.38 L299.30,33.97 L299.35,34.56 L299.40,35.16 L299.45,35.76 L299.50,36.37 L299.55,36.99 L299.60,37.61 L299.64,38.23 L299.69,38.86 L299.74,39.50 L299.79,40.14 L299.84,40.79 L299.89,41.44 L299.94,42.09 L299.99,42.76 L300.04,43.42 L300.09,44.10 L300.13,44.77 L300.18,45.46 L300.23,46.14 L300.28,46.84 L300.33,47.54 L300.38,48.24 L300.43,48.95 L300.48,49.66 L300.53,50.38 L300.58,51.10 L300.62,51.83 L300.67,52.57 L300.72,53.31 L300.77,54.05 L300.82,54.80 L300.87,55.55 L300.92,56.31 L300.97,57.08 L301.02,57.85 L301.07,58.62 L301.12,59.40 L301.16,60.19 L301.21,60.98 L301.26,61.77 L301.31,62.57 L301.36,63.37 L301.41,64.18 L301.46,65.00 L301.51,65.82 L301.56,66.64 L301.61,67.47 L301.65,68.31 L301.70,69.14 L301.75,69.99 L301.80,70.84 L301.85,71.69 L301.90,72.55 L301.95,73.41 L302.00,74.28 L302.05,75.15 L302.10,76.03 L302.14,76.90 L302.19,77.79 L302.24,78.67 L302.29,79.55 L302.34,80.42 L302.39,81.29 L302.44,82.14 L302.49,82.96 L302.54,83.73 L302.59,84.44 L302.63,85.06 L302.68,85.59 L302.73,86.01 L302.78,86.32 L302.83,86.55 L302.88,86.70 L302.93,86.81 L302.98,86.87 L303.03,86.92 L303.08,86.94 L303.12,86.96 L303.17,86.97 L303.22,86.98 L303.27,86.99 L303.32,86.99 L303.37,86.99 L303.42,86.99 L303.47,87.00 L303.52,87.00 L303.57,87.00 L303.61,87.00 L303.66,87.00 L303.71,87.01 L303.76,87.01 L303.81,87.01 L303.86,87.01 L303.91,87.01 L303.96,87.01 L304.01,87.01 L304.06,87.02 L304.10,87.02 L304.15,87.02 L304.20,87.02 L304.25,87.02 L304.30,87.02 L304.35,87.03 L304.40,87.03 L304.45,87.03 L304.50,87.03 L304.55,87.03 L304.59,87.03 L304.64,87.04 L304.69,87.04 L304.74,87.04 L304.79,87.04 L304.84,87.04 L304.89,87.04 L304.94,87.04 L304.99,87.05 L305.04,87.05 L305.08,87.05 L305.13,87.05 L305.18,87.05 L305.23,87.05 L305.28,87.06 L305.33,87.06 L305.38,87.06 L305.43,87.06 L305.48,87.06 L305.53,87.06 L305.57,87.07 L305.62,87.07 L305.67,87.07 L305.72,87.07 L305.77,87.07 L305.82,87.07 L305.87,87.07 L305.92,87.08 L305.97,87.08 L306.02,87.08 L306.06,87.08 L306.11,87.08 L306.16,87.08 L306.21,87.09 L306.26,87.09 L306.31,87.09 L306.36,87.09 L306.41,87.09 L306.46,87.09 L306.51,87.10 L306.55,87.10 L306.60,87.10 L306.65,87.10 L306.70,87.10 L306.75,87.10 L306.80,87.10 L306.85,87.11 L306.90,87.11 L306.95,87.11 L307.00,87.11 L307.04,87.11 L307.09,87.11 L307.14,87.12 L307.19,87.12 L307.24,87.12 L307.29,87.12 L307.34,87.12 L307.39,87.12 L307.44,87.13 L307.49,87.13 L307.53,87.13 L307.58,87.13 L307.63,87.13 L307.68,87.13 L307.73,87.14 L307.78,87.14 L307.83,87.14 L307.88,87.14 L307.93,87.14 L307.98,87.14 L308.02,87.14 L308.07,87.15 L308.12,87.15 L308.17,87.15 L308.22,87.15 L308.27,87.15 L308.32,87.15 L308.37,87.16 L308.42,87.16 L308.47,87.16 L308.51,87.16 L308.56,87.16 L308.61,87.16 L308.66,87.17 L308.71,87.17 L308.76,87.17 L308.81,87.17 L308.86,87.17 L308.91,87.17 L308.96,87.17 L309.00,87.18 L309.05,87.18 L309.10,87.18 L309.15,87.18 L309.20,87.18 L309.25,87.18 L309.30,87.19 L309.35,87.19 L309.40,87.19 L309.44,87.19 L309.49,87.19 L309.54,87.19 L309.59,87.20 L309.64,87.20 L309.69,87.20 L309.74,87.20 L309.79,87.20 L309.84,87.20 L309.89,87.20 L309.94,87.21 L309.98,87.21 L310.03,87.21 L310.08,87.21 L310.13,87.21 L310.18,87.21 L310.23,87.22 L310.28,87.22 L310.33,87.22 L310.38,87.22 L310.43,87.22 L310.47,87.22 L310.52,87.23 L310.57,87.23 L310.62,87.23 L310.67,87.23 L310.72,87.23 L310.77,87.23 L310.82,87.23 L310.87,87.24 L310.92,87.24 L310.96,87.24 L311.01,87.24 L311.06,87.24 L311.11,87.24 L311.16,87.25 L311.21,87.25 L311.26,87.25 L311.31,87.25 L311.36,87.25 L311.41,87.25 L311.45,87.26 L311.50,87.26 L311.55,87.26 L311.60,87.26 L311.65,87.26 L311.70,87.26 L311.75,87.26 L311.80,87.27 L311.85,87.27 L311.89,87.27 L311.94,87.27 L311.99,87.27 L312.04,87.27 L312.09,87.28 L312.14,87.28 L312.19,87.28 L312.24,87.28 L312.29,87.28 L312.34,87.28 L312.38,87.29 L312.43,87.29 L312.48,87.29 L312.53,87.29 L312.58,87.29 L312.63,87.29 L312.68,87.29 L312.73,87.30 L312.78,87.30 L312.83,87.30 L312.88,87.30 L312.92,87.30 L312.97,87.30 L313.02,87.31 L313.07,87.31 L313.12,87.31 L313.17,87.31 L313.22,87.31 L313.27,87.31 L313.32,87.32 L313.37,87.32 L313.41,87.32 L313.46,87.32 L313.51,87.32 L313.56,87.32 L313.61,87.32 L313.66,87.33 L313.71,87.33 L313.76,87.33 L313.81,87.33 L313.86,87.33 L313.90,87.33 L313.95,87.34 L314.00,87.34 L314.05,87.34 L314.10,87.34 L319.00,87.50 L323.90,87.66 L328.80,87.81 L333.70,87.97 L338.60,88.13 L343.50,88.29" stroke="#1c38a6" stroke-dasharray="9 3.3 1.6 3.6"/></g>
<g clip-path="url(#c2)" fill="none" stroke-width="1.5" stroke-linejoin="round"><path d="M49.50,139.33 L54.40,139.27 L59.30,139.21 L64.20,139.16 L69.10,139.10 L74.00,139.05 L78.90,138.99 L83.80,138.93 L88.70,138.88 L93.60,138.82 L98.50,138.77 L103.40,138.71 L108.30,138.65 L113.20,138.60 L118.10,138.54 L123.00,138.49 L127.90,138.43 L132.80,138.37 L137.70,138.32 L142.60,138.26 L147.50,138.20 L152.40,138.15 L157.30,138.09 L162.20,138.04 L167.10,137.98 L172.00,137.92 L176.90,137.87 L181.80,137.81 L186.70,137.76 L191.60,137.70 L196.50,137.64 L201.40,137.59 L206.30,137.53 L211.20,137.48 L216.10,137.42 L221.00,137.36 L225.90,137.31 L230.80,137.25 L235.70,137.19 L240.60,137.14 L245.50,137.08 L250.40,137.03 L255.30,136.97 L260.20,136.91 L265.10,136.86 L270.00,136.80 L274.90,136.75 L274.95,136.75 L275.00,136.74 L275.05,136.74 L275.10,136.74 L275.14,136.74 L275.19,136.74 L275.24,136.74 L275.29,136.74 L275.34,136.74 L275.39,136.74 L275.44,136.74 L275.49,136.74 L275.54,136.74 L275.59,136.74 L275.63,136.74 L275.68,136.74 L275.73,136.74 L275.78,136.74 L275.83,136.73 L275.88,136.73 L275.93,136.73 L275.98,136.73 L276.03,136.73 L276.08,136.73 L276.12,136.73 L276.17,136.73 L276.22,136.73 L276.27,136.73 L276.32,136.73 L276.37,136.73 L276.42,136.73 L276.47,136.73 L276.52,136.73 L276.57,136.73 L276.62,136.73 L276.66,136.73 L276.71,136.72 L276.76,136.72 L276.81,136.72 L276.86,136.72 L276.91,136.72 L276.96,136.72 L277.01,136.72 L277.06,136.72 L277.11,136.72 L277.15,136.72 L277.20,136.72 L277.25,136.72 L277.30,136.72 L277.35,136.72 L277.40,136.72 L277.45,136.72 L277.50,136.72 L277.55,136.72 L277.60,136.71 L277.64,136.71 L277.69,136.71 L277.74,136.71 L277.79,136.71 L277.84,136.71 L277.89,136.71 L277.94,136.71 L277.99,136.71 L278.04,136.71 L278.09,136.71 L278.13,136.71 L278.18,136.71 L278.23,136.71 L278.28,136.71 L278.33,136.71 L278.38,136.71 L278.43,136.71 L278.48,136.70 L278.53,136.70 L278.58,136.70 L278.62,136.70 L278.67,136.70 L278.72,136.70 L278.77,136.70 L278.82,136.70 L278.87,136.70 L278.92,136.70 L278.97,136.70 L279.02,136.70 L279.07,136.70 L279.11,136.70 L279.16,136.70 L279.21,136.70 L279.26,136.70 L279.31,136.70 L279.36,136.69 L279.41,136.69 L279.46,136.69 L279.51,136.69 L279.56,136.69 L279.60,136.69 L279.65,136.69 L279.70,136.69 L279.75,136.69 L279.80,136.69 L279.85,136.69 L279.90,136.69 L279.95,136.69 L280.00,136.69 L280.05,136.69 L280.09,136.69 L280.14,136.69 L280.19,136.69 L280.24,136.68 L280.29,136.68 L280.34,136.68 L280.39,136.68 L280.44,136.68 L280.49,136.68 L280.53,136.68 L280.58,136.68 L280.63,136.68 L280.68,136.68 L280.73,136.68 L280.78,136.68 L280.83,136.68 L280.88,136.68 L280.93,136.68 L280.98,136.68 L281.02,136.68 L281.07,136.67 L281.12,136.67 L281.17,136.67 L281.22,136.67 L281.27,136.67 L281.32,136.67 L281.37,136.67 L281.42,136.67 L281.47,136.67 L281.51,136.67 L281.56,136.67 L281.61,136.67 L281.66,136.67 L281.71,136.67 L281.76,136.67 L281.81,136.67 L281.86,136.67 L281.91,136.67 L281.96,136.66 L282.00,136.66 L282.05,136.66 L282.10,136.66 L282.15,136.66 L282.20,136.66 L282.25,136.66 L282.30,136.66 L282.35,136.66 L282.40,136.66 L282.45,136.66 L282.50,136.66 L282.54,136.66 L282.59,136.66 L282.64,136.66 L282.69,136.66 L282.74,136.66 L282.79,136.66 L282.84,136.66 L282.89,136.65 L282.94,136.65 L282.99,136.65 L283.03,136.65 L283.08,136.65 L283.13,136.65 L283.18,136.65 L283.23,136.65 L283.28,136.65 L283.33,136.65 L283.38,136.65 L283.43,136.65 L283.48,136.65 L283.52,136.65 L283.57,136.65 L283.62,136.65 L283.67,136.65 L283.72,136.65 L283.77,136.65 L283.82,136.65 L283.87,136.65 L283.92,136.65 L283.97,136.65 L284.01,136.65 L284.06,136.65 L284.11,136.65 L284.16,136.65 L284.21,136.65 L284.26,136.65 L284.31,136.65 L284.36,136.65 L284.41,136.65 L284.46,136.65 L284.50,136.65 L284.55,136.65 L284.60,136.66 L284.65,136.66 L284.70,136.66 L284.75,136.66 L284.80,136.66 L284.85,136.67 L284.90,136.67 L284.94,136.67 L284.99,136.68 L285.04,136.68 L285.09,136.69 L285.14,136.69 L285.19,136.70 L285.24,136.70 L285.29,136.71 L285.34,136.72 L285.39,136.73 L285.44,136.74 L285.48,136.75 L285.53,136.76 L285.58,136.78 L285.63,136.79 L285.68,136.81 L285.73,136.83 L285.78,136.85 L285.83,136.87 L285.88,136.90 L285.93,136.93 L285.97,136.96 L286.02,136.99 L286.07,137.03 L286.12,137.08 L286.17,137.12 L286.22,137.17 L286.27,137.23 L286.32,137.30 L286.37,137.37 L286.42,137.44 L286.46,137.53 L286.51,137.62 L286.56,137.73 L286.61,137.84 L286.66,137.97 L286.71,138.11 L286.76,138.26 L286.81,138.43 L286.86,138.62 L286.91,138.82 L286.95,139.05 L287.00,139.30 L287.05,139.57 L287.10,139.87 L287.15,140.19 L287.20,140.55 L287.25,140.94 L287.30,141.37 L287.35,141.83 L287.39,142.34 L287.44,142.89 L287.49,143.49 L287.54,144.14 L287.59,144.85 L287.64,145.61 L287.69,146.44 L287.74,147.33 L287.79,148.28 L287.84,149.30 L287.88,150.39 L287.93,151.56 L287.98,152.79 L288.03,154.10 L288.08,155.48 L288.13,156.93 L288.18,158.45 L288.23,160.04 L288.28,161.69 L288.33,163.39 L288.38,165.14 L288.42,166.94 L288.47,168.77 L288.52,170.63 L288.57,172.51 L288.62,174.40 L288.67,176.29 L288.72,178.17 L288.77,180.03 L288.82,181.87 L288.87,183.66 L288.91,185.42 L288.96,187.12 L289.01,188.77 L289.06,190.36 L289.11,191.88 L289.16,193.33 L289.21,194.71 L289.26,196.02 L289.31,197.26 L289.36,198.42 L289.40,199.51 L289.45,200.53 L289.50,201.49 L289.55,202.38 L289.60,203.20 L289.65,203.97 L289.70,204.67 L289.75,205.33 L289.80,205.93 L289.85,206.48 L289.89,206.99 L289.94,207.45 L289.99,207.88 L290.04,208.27 L290.09,208.63 L290.14,208.96 L290.19,209.26 L290.24,209.53 L290.29,209.77 L290.34,210.00 L290.38,210.21 L290.43,210.39 L290.48,210.56 L290.53,210.72 L290.58,210.86 L290.63,210.98 L290.68,211.10 L290.73,211.21 L290.78,211.30 L290.83,211.39 L290.87,211.47 L290.92,211.54 L290.97,211.60 L291.02,211.66 L291.07,211.71 L291.12,211.76 L291.17,211.80 L291.22,211.84 L291.27,211.88 L291.32,211.91 L291.36,211.94 L291.41,211.97 L291.46,211.99 L291.51,212.01 L291.56,212.03 L291.61,212.05 L291.66,212.06 L291.71,212.08 L291.76,212.09 L291.81,212.10 L291.85,212.12 L291.90,212.12 L291.95,212.13 L292.00,212.14 L292.05,212.15 L292.10,212.16 L292.15,212.16 L292.20,212.17 L292.25,212.17 L292.30,212.18 L292.34,212.18 L292.39,212.18 L292.44,212.19 L292.49,212.19 L292.54,212.19 L292.59,212.20 L292.64,212.20 L292.69,212.20 L292.74,212.20 L292.78,212.20 L292.83,212.20 L292.88,212.21 L292.93,212.21 L292.98,212.21 L293.03,212.21 L293.08,212.21 L293.13,212.21 L293.18,212.21 L293.23,212.21 L293.27,212.21 L293.32,212.21 L293.37,212.21 L293.42,212.21 L293.47,212.21 L293.52,212.21 L293.57,212.21 L293.62,212.22 L293.67,212.22 L293.72,212.22 L293.76,212.22 L293.81,212.22 L293.86,212.22 L293.91,212.22 L293.96,212.22 L294.01,212.22 L294.06,212.22 L294.11,212.22 L294.16,212.22 L294.21,212.22 L294.25,212.22 L294.30,212.22 L294.35,212.22 L294.40,212.22 L294.45,212.22 L294.50,212.22 L294.55,212.22 L294.60,212.22 L294.65,212.22 L294.70,212.22 L294.75,212.22 L294.79,212.22 L294.84,212.22 L294.89,212.22 L294.94,212.22 L294.99,212.22 L295.04,212.22 L295.09,212.22 L295.14,212.22 L295.19,212.22 L295.24,212.22 L295.28,212.22 L295.33,212.22 L295.38,212.22 L295.43,212.21 L295.48,212.21 L295.53,212.21 L295.58,212.21 L295.63,212.21 L295.68,212.21 L295.73,212.21 L295.77,212.21 L295.82,212.21 L295.87,212.21 L295.92,212.21 L295.97,212.21 L296.02,212.21 L296.07,212.21 L296.12,212.21 L296.17,212.20 L296.22,212.20 L296.26,212.20 L296.31,212.20 L296.36,212.20 L296.41,212.20 L296.46,212.19 L296.51,212.19 L296.56,212.19 L296.61,212.18 L296.66,212.18 L296.71,212.18 L296.75,212.17 L296.80,212.17 L296.85,212.16 L296.90,212.16 L296.95,212.15 L297.00,212.14 L297.05,212.13 L297.10,212.12 L297.15,212.12 L297.19,212.10 L297.24,212.09 L297.29,212.08 L297.34,212.06 L297.39,212.05 L297.44,212.03 L297.49,212.01 L297.54,211.99 L297.59,211.97 L297.64,211.94 L297.69,211.91 L297.73,211.88 L297.78,211.84 L297.83,211.80 L297.88,211.76 L297.93,211.71 L297.98,211.66 L298.03,211.60 L298.08,211.54 L298.13,211.46 L298.18,211.39 L298.22,211.30 L298.27,211.20 L298.32,211.10 L298.37,210.98 L298.42,210.86 L298.47,210.72 L298.52,210.56 L298.57,210.39 L298.62,210.20 L298.67,210.00 L298.71,209.77 L298.76,209.52 L298.81,209.25 L298.86,208.95 L298.91,208.63 L298.96,208.27 L299.01,207.88 L299.06,207.45 L299.11,206.98 L299.16,206.47 L299.20,205.92 L299.25,205.32 L299.30,204.66 L299.35,203.95 L299.40,203.19 L299.45,202.36 L299.50,201.47 L299.55,200.52 L299.60,199.49 L299.64,198.40 L299.69,197.23 L299.74,195.99 L299.79,194.68 L299.84,193.30 L299.89,191.84 L299.94,190.32 L299.99,188.73 L300.04,187.08 L300.09,185.37 L300.13,183.62 L300.18,181.81 L300.23,179.98 L300.28,178.11 L300.33,176.23 L300.38,174.34 L300.43,172.44 L300.48,170.56 L300.53,168.69 L300.58,166.86 L300.62,165.06 L300.67,163.30 L300.72,161.59 L300.77,159.94 L300.82,158.35 L300.87,156.83 L300.92,155.37 L300.97,153.99 L301.02,152.67 L301.07,151.43 L301.12,150.27 L301.16,149.17 L301.21,148.15 L301.26,147.19 L301.31,146.30 L301.36,145.48 L301.41,144.71 L301.46,144.00 L301.51,143.35 L301.56,142.74 L301.61,142.19 L301.65,141.68 L301.70,141.21 L301.75,140.78 L301.80,140.39 L301.85,140.03 L301.90,139.70 L301.95,139.40 L302.00,139.13 L302.05,138.88 L302.10,138.66 L302.14,138.45 L302.19,138.26 L302.24,138.09 L302.29,137.94 L302.34,137.79 L302.39,137.67 L302.44,137.55 L302.49,137.44 L302.54,137.35 L302.59,137.26 L302.63,137.18 L302.68,137.11 L302.73,137.05 L302.78,136.99 L302.83,136.93 L302.88,136.88 L302.93,136.84 L302.98,136.80 L303.03,136.76 L303.08,136.73 L303.12,136.70 L303.17,136.67 L303.22,136.65 L303.27,136.63 L303.32,136.61 L303.37,136.59 L303.42,136.57 L303.47,136.56 L303.52,136.54 L303.57,136.53 L303.61,136.52 L303.66,136.51 L303.71,136.50 L303.76,136.49 L303.81,136.48 L303.86,136.48 L303.91,136.47 L303.96,136.46 L304.01,136.46 L304.06,136.45 L304.10,136.45 L304.15,136.44 L304.20,136.44 L304.25,136.44 L304.30,136.43 L304.35,136.43 L304.40,136.43 L304.45,136.43 L304.50,136.42 L304.55,136.42 L304.59,136.42 L304.64,136.42 L304.69,136.42 L304.74,136.41 L304.79,136.41 L304.84,136.41 L304.89,136.41 L304.94,136.41 L304.99,136.41 L305.04,136.41 L305.08,136.41 L305.13,136.40 L305.18,136.40 L305.23,136.40 L305.28,136.40 L305.33,136.40 L305.38,136.40 L305.43,136.40 L305.48,136.40 L305.53,136.40 L305.57,136.40 L305.62,136.40 L305.67,136.39 L305.72,136.39 L305.77,136.39 L305.82,136.39 L305.87,136.39 L305.92,136.39 L305.97,136.39 L306.02,136.39 L306.06,136.39 L306.11,136.39 L306.16,136.39 L306.21,136.39 L306.26,136.39 L306.31,136.39 L306.36,136.39 L306.41,136.39 L306.46,136.38 L306.51,136.38 L306.55,136.38 L306.60,136.38 L306.65,136.38 L306.70,136.38 L306.75,136.38 L306.80,136.38 L306.85,136.38 L306.90,136.38 L306.95,136.38 L307.00,136.38 L307.04,136.38 L307.09,136.38 L307.14,136.38 L307.19,136.38 L307.24,136.38 L307.29,136.37 L307.34,136.37 L307.39,136.37 L307.44,136.37 L307.49,136.37 L307.53,136.37 L307.58,136.37 L307.63,136.37 L307.68,136.37 L307.73,136.37 L307.78,136.37 L307.83,136.37 L307.88,136.37 L307.93,136.37 L307.98,136.37 L308.02,136.37 L308.07,136.37 L308.12,136.37 L308.17,136.36 L308.22,136.36 L308.27,136.36 L308.32,136.36 L308.37,136.36 L308.42,136.36 L308.47,136.36 L308.51,136.36 L308.56,136.36 L308.61,136.36 L308.66,136.36 L308.71,136.36 L308.76,136.36 L308.81,136.36 L308.86,136.36 L308.91,136.36 L308.96,136.36 L309.00,136.36 L309.05,136.35 L309.10,136.35 L309.15,136.35 L309.20,136.35 L309.25,136.35 L309.30,136.35 L309.35,136.35 L309.40,136.35 L309.44,136.35 L309.49,136.35 L309.54,136.35 L309.59,136.35 L309.64,136.35 L309.69,136.35 L309.74,136.35 L309.79,136.35 L309.84,136.35 L309.89,136.34 L309.94,136.34 L309.98,136.34 L310.03,136.34 L310.08,136.34 L310.13,136.34 L310.18,136.34 L310.23,136.34 L310.28,136.34 L310.33,136.34 L310.38,136.34 L310.43,136.34 L310.47,136.34 L310.52,136.34 L310.57,136.34 L310.62,136.34 L310.67,136.34 L310.72,136.34 L310.77,136.33 L310.82,136.33 L310.87,136.33 L310.92,136.33 L310.96,136.33 L311.01,136.33 L311.06,136.33 L311.11,136.33 L311.16,136.33 L311.21,136.33 L311.26,136.33 L311.31,136.33 L311.36,136.33 L311.41,136.33 L311.45,136.33 L311.50,136.33 L311.55,136.33 L311.60,136.33 L311.65,136.32 L311.70,136.32 L311.75,136.32 L311.80,136.32 L311.85,136.32 L311.89,136.32 L311.94,136.32 L311.99,136.32 L312.04,136.32 L312.09,136.32 L312.14,136.32 L312.19,136.32 L312.24,136.32 L312.29,136.32 L312.34,136.32 L312.38,136.32 L312.43,136.32 L312.48,136.32 L312.53,136.31 L312.58,136.31 L312.63,136.31 L312.68,136.31 L312.73,136.31 L312.78,136.31 L312.83,136.31 L312.88,136.31 L312.92,136.31 L312.97,136.31 L313.02,136.31 L313.07,136.31 L313.12,136.31 L313.17,136.31 L313.22,136.31 L313.27,136.31 L313.32,136.31 L313.37,136.31 L313.41,136.30 L313.46,136.30 L313.51,136.30 L313.56,136.30 L313.61,136.30 L313.66,136.30 L313.71,136.30 L313.76,136.30 L313.81,136.30 L313.86,136.30 L313.90,136.30 L313.95,136.30 L314.00,136.30 L314.05,136.30 L314.10,136.30 L319.00,136.24 L323.90,136.18 L328.80,136.13 L333.70,136.07 L338.60,136.02 L343.50,135.96" stroke="#c86428"/><path d="M49.50,212.13 L54.40,212.18 L59.30,212.23 L64.20,212.29 L69.10,212.34 L74.00,212.39 L78.90,212.45 L83.80,212.50 L88.70,212.55 L93.60,212.60 L98.50,212.66 L103.40,212.71 L108.30,212.76 L113.20,212.82 L118.10,212.87 L123.00,212.92 L127.90,212.98 L132.80,213.03 L137.70,213.08 L142.60,213.14 L147.50,213.19 L152.40,213.24 L157.30,213.29 L162.20,213.35 L167.10,213.40 L172.00,213.45 L176.90,213.51 L181.80,213.56 L186.70,213.61 L191.60,213.67 L196.50,213.72 L201.40,213.77 L206.30,213.83 L211.20,213.88 L216.10,213.93 L221.00,213.98 L225.90,214.04 L230.80,214.09 L235.70,214.14 L240.60,214.20 L245.50,214.25 L250.40,214.30 L255.30,214.36 L260.20,214.41 L265.10,214.46 L270.00,214.52 L274.90,214.57 L274.95,214.57 L275.00,214.57 L275.05,214.57 L275.10,214.57 L275.14,214.57 L275.19,214.57 L275.24,214.57 L275.29,214.57 L275.34,214.57 L275.39,214.57 L275.44,214.57 L275.49,214.58 L275.54,214.58 L275.59,214.58 L275.63,214.58 L275.68,214.58 L275.73,214.58 L275.78,214.58 L275.83,214.58 L275.88,214.58 L275.93,214.58 L275.98,214.58 L276.03,214.58 L276.08,214.58 L276.12,214.58 L276.17,214.58 L276.22,214.58 L276.27,214.58 L276.32,214.58 L276.37,214.58 L276.42,214.59 L276.47,214.59 L276.52,214.59 L276.57,214.59 L276.62,214.59 L276.66,214.59 L276.71,214.59 L276.76,214.59 L276.81,214.59 L276.86,214.59 L276.91,214.59 L276.96,214.59 L277.01,214.59 L277.06,214.59 L277.11,214.59 L277.15,214.59 L277.20,214.59 L277.25,214.59 L277.30,214.59 L277.35,214.60 L277.40,214.60 L277.45,214.60 L277.50,214.60 L277.55,214.60 L277.60,214.60 L277.64,214.60 L277.69,214.60 L277.74,214.60 L277.79,214.60 L277.84,214.60 L277.89,214.60 L277.94,214.60 L277.99,214.60 L278.04,214.60 L278.09,214.60 L278.13,214.60 L278.18,214.60 L278.23,214.60 L278.28,214.61 L278.33,214.61 L278.38,214.61 L278.43,214.61 L278.48,214.61 L278.53,214.61 L278.58,214.61 L278.62,214.61 L278.67,214.61 L278.72,214.61 L278.77,214.61 L278.82,214.61 L278.87,214.61 L278.92,214.61 L278.97,214.61 L279.02,214.61 L279.07,214.61 L279.11,214.61 L279.16,214.62 L279.21,214.62 L279.26,214.62 L279.31,214.62 L279.36,214.62 L279.41,214.62 L279.46,214.62 L279.51,214.62 L279.56,214.62 L279.60,214.62 L279.65,214.62 L279.70,214.62 L279.75,214.62 L279.80,214.62 L279.85,214.62 L279.90,214.62 L279.95,214.62 L280.00,214.62 L280.05,214.62 L280.09,214.63 L280.14,214.63 L280.19,214.63 L280.24,214.63 L280.29,214.63 L280.34,214.63 L280.39,214.63 L280.44,214.63 L280.49,214.63 L280.53,214.63 L280.58,214.63 L280.63,214.63 L280.68,214.63 L280.73,214.63 L280.78,214.63 L280.83,214.63 L280.88,214.63 L280.93,214.63 L280.98,214.63 L281.02,214.64 L281.07,214.64 L281.12,214.64 L281.17,214.64 L281.22,214.64 L281.27,214.64 L281.32,214.64 L281.37,214.64 L281.42,214.64 L281.47,214.64 L281.51,214.64 L281.56,214.64 L281.61,214.64 L281.66,214.64 L281.71,214.64 L281.76,214.64 L281.81,214.64 L281.86,214.64 L281.91,214.64 L281.96,214.65 L282.00,214.65 L282.05,214.65 L282.10,214.65 L282.15,214.65 L282.20,214.65 L282.25,214.65 L282.30,214.65 L282.35,214.65 L282.40,214.65 L282.45,214.65 L282.50,214.65 L282.54,214.65 L282.59,214.65 L282.64,214.65 L282.69,214.65 L282.74,214.65 L282.79,214.65 L282.84,214.65 L282.89,214.65 L282.94,214.66 L282.99,214.66 L283.03,214.66 L283.08,214.66 L283.13,214.66 L283.18,214.66 L283.23,214.66 L283.28,214.66 L283.33,214.66 L283.38,214.66 L283.43,214.66 L283.48,214.66 L283.52,214.66 L283.57,214.66 L283.62,214.66 L283.67,214.66 L283.72,214.66 L283.77,214.66 L283.82,214.66 L283.87,214.66 L283.92,214.66 L283.97,214.66 L284.01,214.66 L284.06,214.66 L284.11,214.66 L284.16,214.66 L284.21,214.66 L284.26,214.66 L284.31,214.66 L284.36,214.66 L284.41,214.66 L284.46,214.66 L284.50,214.66 L284.55,214.65 L284.60,214.65 L284.65,214.65 L284.70,214.65 L284.75,214.65 L284.80,214.65 L284.85,214.64 L284.90,214.64 L284.94,214.64 L284.99,214.63 L285.04,214.63 L285.09,214.62 L285.14,214.62 L285.19,214.61 L285.24,214.61 L285.29,214.60 L285.34,214.59 L285.39,214.58 L285.44,214.57 L285.48,214.56 L285.53,214.55 L285.58,214.53 L285.63,214.52 L285.68,214.50 L285.73,214.48 L285.78,214.46 L285.83,214.44 L285.88,214.41 L285.93,214.38 L285.97,214.35 L286.02,214.32 L286.07,214.28 L286.12,214.24 L286.17,214.19 L286.22,214.14 L286.27,214.08 L286.32,214.02 L286.37,213.95 L286.42,213.87 L286.46,213.79 L286.51,213.69 L286.56,213.59 L286.61,213.47 L286.66,213.35 L286.71,213.21 L286.76,213.06 L286.81,212.89 L286.86,212.71 L286.91,212.50 L286.95,212.28 L287.00,212.04 L287.05,211.77 L287.10,211.47 L287.15,211.15 L287.20,210.79 L287.25,210.41 L287.30,209.99 L287.35,209.52 L287.39,209.02 L287.44,208.47 L287.49,207.88 L287.54,207.23 L287.59,206.53 L287.64,205.78 L287.69,204.96 L287.74,204.08 L287.79,203.13 L287.84,202.12 L287.88,201.04 L287.93,199.89 L287.98,198.66 L288.03,197.37 L288.08,196.00 L288.13,194.56 L288.18,193.05 L288.23,191.48 L288.28,189.85 L288.33,188.16 L288.38,186.42 L288.42,184.64 L288.47,182.83 L288.52,180.98 L288.57,179.12 L288.62,177.25 L288.67,175.38 L288.72,173.52 L288.77,171.67 L288.82,169.86 L288.87,168.07 L288.91,166.34 L288.96,164.65 L289.01,163.02 L289.06,161.44 L289.11,159.94 L289.16,158.50 L289.21,157.13 L289.26,155.83 L289.31,154.61 L289.36,153.45 L289.40,152.37 L289.45,151.36 L289.50,150.41 L289.55,149.53 L289.60,148.72 L289.65,147.96 L289.70,147.26 L289.75,146.61 L289.80,146.02 L289.85,145.47 L289.89,144.96 L289.94,144.50 L289.99,144.08 L290.04,143.69 L290.09,143.34 L290.14,143.01 L290.19,142.72 L290.24,142.45 L290.29,142.20 L290.34,141.98 L290.38,141.78 L290.43,141.59 L290.48,141.42 L290.53,141.27 L290.58,141.13 L290.63,141.00 L290.68,140.89 L290.73,140.79 L290.78,140.69 L290.83,140.61 L290.87,140.53 L290.92,140.46 L290.97,140.39 L291.02,140.34 L291.07,140.28 L291.12,140.24 L291.17,140.19 L291.22,140.15 L291.27,140.12 L291.32,140.09 L291.36,140.06 L291.41,140.03 L291.46,140.01 L291.51,139.99 L291.56,139.97 L291.61,139.95 L291.66,139.93 L291.71,139.92 L291.76,139.91 L291.81,139.89 L291.85,139.88 L291.90,139.87 L291.95,139.87 L292.00,139.86 L292.05,139.85 L292.10,139.84 L292.15,139.84 L292.20,139.83 L292.25,139.83 L292.30,139.82 L292.34,139.82 L292.39,139.82 L292.44,139.81 L292.49,139.81 L292.54,139.81 L292.59,139.80 L292.64,139.80 L292.69,139.80 L292.74,139.80 L292.78,139.80 L292.83,139.80 L292.88,139.79 L292.93,139.79 L292.98,139.79 L293.03,139.79 L293.08,139.79 L293.13,139.79 L293.18,139.79 L293.23,139.79 L293.27,139.79 L293.32,139.79 L293.37,139.79 L293.42,139.79 L293.47,139.79 L293.52,139.79 L293.57,139.79 L293.62,139.78 L293.67,139.78 L293.72,139.78 L293.76,139.78 L293.81,139.78 L293.86,139.78 L293.91,139.78 L293.96,139.78 L294.01,139.78 L294.06,139.78 L294.11,139.78 L294.16,139.78 L294.21,139.78 L294.25,139.78 L294.30,139.78 L294.35,139.78 L294.40,139.78 L294.45,139.78 L294.50,139.78 L294.55,139.78 L294.60,139.78 L294.65,139.78 L294.70,139.78 L294.75,139.78 L294.79,139.78 L294.84,139.78 L294.89,139.78 L294.94,139.78 L294.99,139.78 L295.04,139.78 L295.09,139.78 L295.14,139.78 L295.19,139.78 L295.24,139.78 L295.28,139.78 L295.33,139.78 L295.38,139.78 L295.43,139.79 L295.48,139.79 L295.53,139.79 L295.58,139.79 L295.63,139.79 L295.68,139.79 L295.73,139.79 L295.77,139.79 L295.82,139.79 L295.87,139.79 L295.92,139.79 L295.97,139.79 L296.02,139.79 L296.07,139.79 L296.12,139.79 L296.17,139.80 L296.22,139.80 L296.26,139.80 L296.31,139.80 L296.36,139.80 L296.41,139.80 L296.46,139.81 L296.51,139.81 L296.56,139.81 L296.61,139.82 L296.66,139.82 L296.71,139.82 L296.75,139.83 L296.80,139.83 L296.85,139.84 L296.90,139.84 L296.95,139.85 L297.00,139.86 L297.05,139.87 L297.10,139.87 L297.15,139.88 L297.19,139.89 L297.24,139.91 L297.29,139.92 L297.34,139.93 L297.39,139.95 L297.44,139.97 L297.49,139.99 L297.54,140.01 L297.59,140.03 L297.64,140.06 L297.69,140.09 L297.73,140.12 L297.78,140.15 L297.83,140.19 L297.88,140.24 L297.93,140.28 L297.98,140.34 L298.03,140.39 L298.08,140.46 L298.13,140.53 L298.18,140.61 L298.22,140.69 L298.27,140.79 L298.32,140.89 L298.37,141.01 L298.42,141.13 L298.47,141.27 L298.52,141.42 L298.57,141.59 L298.62,141.78 L298.67,141.98 L298.71,142.21 L298.76,142.45 L298.81,142.72 L298.86,143.02 L298.91,143.34 L298.96,143.70 L299.01,144.08 L299.06,144.51 L299.11,144.97 L299.16,145.48 L299.20,146.02 L299.25,146.62 L299.30,147.27 L299.35,147.97 L299.40,148.73 L299.45,149.55 L299.50,150.43 L299.55,151.38 L299.60,152.39 L299.64,153.47 L299.69,154.63 L299.74,155.86 L299.79,157.16 L299.84,158.53 L299.89,159.97 L299.94,161.48 L299.99,163.05 L300.04,164.69 L300.09,166.38 L300.13,168.12 L300.18,169.90 L300.23,171.72 L300.28,173.57 L300.33,175.44 L300.38,177.31 L300.43,179.19 L300.48,181.05 L300.53,182.90 L300.58,184.72 L300.62,186.51 L300.67,188.25 L300.72,189.94 L300.77,191.58 L300.82,193.15 L300.87,194.66 L300.92,196.10 L300.97,197.47 L301.02,198.77 L301.07,200.00 L301.12,201.16 L301.16,202.24 L301.21,203.26 L301.26,204.21 L301.31,205.09 L301.36,205.91 L301.41,206.67 L301.46,207.37 L301.51,208.02 L301.56,208.61 L301.61,209.16 L301.65,209.67 L301.70,210.13 L301.75,210.56 L301.80,210.94 L301.85,211.30 L301.90,211.62 L301.95,211.92 L302.00,212.19 L302.05,212.44 L302.10,212.66 L302.14,212.87 L302.19,213.05 L302.24,213.22 L302.29,213.38 L302.34,213.52 L302.39,213.64 L302.44,213.76 L302.49,213.86 L302.54,213.96 L302.59,214.04 L302.63,214.12 L302.68,214.19 L302.73,214.26 L302.78,214.32 L302.83,214.37 L302.88,214.42 L302.93,214.46 L302.98,214.50 L303.03,214.54 L303.08,214.57 L303.12,214.60 L303.17,214.62 L303.22,214.65 L303.27,214.67 L303.32,214.69 L303.37,214.71 L303.42,214.73 L303.47,214.74 L303.52,214.75 L303.57,214.77 L303.61,214.78 L303.66,214.79 L303.71,214.80 L303.76,214.81 L303.81,214.81 L303.86,214.82 L303.91,214.83 L303.96,214.83 L304.01,214.84 L304.06,214.84 L304.10,214.85 L304.15,214.85 L304.20,214.86 L304.25,214.86 L304.30,214.86 L304.35,214.87 L304.40,214.87 L304.45,214.87 L304.50,214.87 L304.55,214.87 L304.59,214.88 L304.64,214.88 L304.69,214.88 L304.74,214.88 L304.79,214.88 L304.84,214.88 L304.89,214.89 L304.94,214.89 L304.99,214.89 L305.04,214.89 L305.08,214.89 L305.13,214.89 L305.18,214.89 L305.23,214.89 L305.28,214.89 L305.33,214.90 L305.38,214.90 L305.43,214.90 L305.48,214.90 L305.53,214.90 L305.57,214.90 L305.62,214.90 L305.67,214.90 L305.72,214.90 L305.77,214.90 L305.82,214.90 L305.87,214.90 L305.92,214.90 L305.97,214.90 L306.02,214.91 L306.06,214.91 L306.11,214.91 L306.16,214.91 L306.21,214.91 L306.26,214.91 L306.31,214.91 L306.36,214.91 L306.41,214.91 L306.46,214.91 L306.51,214.91 L306.55,214.91 L306.60,214.91 L306.65,214.91 L306.70,214.91 L306.75,214.91 L306.80,214.91 L306.85,214.91 L306.90,214.92 L306.95,214.92 L307.00,214.92 L307.04,214.92 L307.09,214.92 L307.14,214.92 L307.19,214.92 L307.24,214.92 L307.29,214.92 L307.34,214.92 L307.39,214.92 L307.44,214.92 L307.49,214.92 L307.53,214.92 L307.58,214.92 L307.63,214.92 L307.68,214.92 L307.73,214.92 L307.78,214.93 L307.83,214.93 L307.88,214.93 L307.93,214.93 L307.98,214.93 L308.02,214.93 L308.07,214.93 L308.12,214.93 L308.17,214.93 L308.22,214.93 L308.27,214.93 L308.32,214.93 L308.37,214.93 L308.42,214.93 L308.47,214.93 L308.51,214.93 L308.56,214.93 L308.61,214.93 L308.66,214.93 L308.71,214.94 L308.76,214.94 L308.81,214.94 L308.86,214.94 L308.91,214.94 L308.96,214.94 L309.00,214.94 L309.05,214.94 L309.10,214.94 L309.15,214.94 L309.20,214.94 L309.25,214.94 L309.30,214.94 L309.35,214.94 L309.40,214.94 L309.44,214.94 L309.49,214.94 L309.54,214.94 L309.59,214.94 L309.64,214.95 L309.69,214.95 L309.74,214.95 L309.79,214.95 L309.84,214.95 L309.89,214.95 L309.94,214.95 L309.98,214.95 L310.03,214.95 L310.08,214.95 L310.13,214.95 L310.18,214.95 L310.23,214.95 L310.28,214.95 L310.33,214.95 L310.38,214.95 L310.43,214.95 L310.47,214.95 L310.52,214.95 L310.57,214.96 L310.62,214.96 L310.67,214.96 L310.72,214.96 L310.77,214.96 L310.82,214.96 L310.87,214.96 L310.92,214.96 L310.96,214.96 L311.01,214.96 L311.06,214.96 L311.11,214.96 L311.16,214.96 L311.21,214.96 L311.26,214.96 L311.31,214.96 L311.36,214.96 L311.41,214.96 L311.45,214.96 L311.50,214.97 L311.55,214.97 L311.60,214.97 L311.65,214.97 L311.70,214.97 L311.75,214.97 L311.80,214.97 L311.85,214.97 L311.89,214.97 L311.94,214.97 L311.99,214.97 L312.04,214.97 L312.09,214.97 L312.14,214.97 L312.19,214.97 L312.24,214.97 L312.29,214.97 L312.34,214.97 L312.38,214.97 L312.43,214.98 L312.48,214.98 L312.53,214.98 L312.58,214.98 L312.63,214.98 L312.68,214.98 L312.73,214.98 L312.78,214.98 L312.83,214.98 L312.88,214.98 L312.92,214.98 L312.97,214.98 L313.02,214.98 L313.07,214.98 L313.12,214.98 L313.17,214.98 L313.22,214.98 L313.27,214.98 L313.32,214.99 L313.37,214.99 L313.41,214.99 L313.46,214.99 L313.51,214.99 L313.56,214.99 L313.61,214.99 L313.66,214.99 L313.71,214.99 L313.76,214.99 L313.81,214.99 L313.86,214.99 L313.90,214.99 L313.95,214.99 L314.00,214.99 L314.05,214.99 L314.10,214.99 L319.00,215.05 L323.90,215.10 L328.80,215.15 L333.70,215.21 L338.60,215.26 L343.50,215.31" stroke="#1c38a6" stroke-dasharray="9 3.3 1.6 3.6"/></g>
<g clip-path="url(#c3)" fill="none" stroke-width="1.5" stroke-linejoin="round"><path d="M49.50,341.50 L54.40,341.72 L59.30,341.95 L64.20,342.17 L69.10,342.39 L74.00,342.62 L78.90,342.84 L83.80,343.06 L88.70,343.28 L93.60,343.51 L98.50,343.73 L103.40,343.95 L108.30,344.18 L113.20,344.40 L118.10,344.62 L123.00,344.85 L127.90,345.07 L132.80,345.29 L137.70,345.51 L142.60,345.74 L147.50,345.96 L152.40,346.18 L157.30,346.41 L162.20,346.63 L167.10,346.85 L172.00,347.07 L176.90,347.30 L181.80,347.52 L186.70,347.74 L191.60,347.97 L196.50,348.19 L201.40,348.41 L206.30,348.63 L211.20,348.86 L216.10,349.08 L221.00,349.30 L225.90,349.53 L230.80,349.75 L235.70,349.97 L240.60,350.19 L245.50,350.42 L250.40,350.64 L255.30,350.86 L260.20,351.09 L265.10,351.31 L270.00,351.53 L274.90,351.75 L274.95,351.76 L275.00,351.76 L275.05,351.76 L275.10,351.76 L275.14,351.77 L275.19,351.77 L275.24,351.77 L275.29,351.77 L275.34,351.77 L275.39,351.78 L275.44,351.78 L275.49,351.78 L275.54,351.78 L275.59,351.79 L275.63,351.79 L275.68,351.79 L275.73,351.79 L275.78,351.79 L275.83,351.80 L275.88,351.80 L275.93,351.80 L275.98,351.80 L276.03,351.81 L276.08,351.81 L276.12,351.81 L276.17,351.81 L276.22,351.81 L276.27,351.82 L276.32,351.82 L276.37,351.82 L276.42,351.82 L276.47,351.83 L276.52,351.83 L276.57,351.83 L276.62,351.83 L276.66,351.83 L276.71,351.84 L276.76,351.84 L276.81,351.84 L276.86,351.84 L276.91,351.85 L276.96,351.85 L277.01,351.85 L277.06,351.85 L277.11,351.85 L277.15,351.86 L277.20,351.86 L277.25,351.86 L277.30,351.86 L277.35,351.87 L277.40,351.87 L277.45,351.87 L277.50,351.87 L277.55,351.87 L277.60,351.88 L277.64,351.88 L277.69,351.88 L277.74,351.88 L277.79,351.89 L277.84,351.89 L277.89,351.89 L277.94,351.89 L277.99,351.89 L278.04,351.90 L278.09,351.90 L278.13,351.90 L278.18,351.90 L278.23,351.91 L278.28,351.91 L278.33,351.91 L278.38,351.91 L278.43,351.91 L278.48,351.92 L278.53,351.92 L278.58,351.92 L278.62,351.92 L278.67,351.93 L278.72,351.93 L278.77,351.93 L278.82,351.93 L278.87,351.93 L278.92,351.94 L278.97,351.94 L279.02,351.94 L279.07,351.94 L279.11,351.95 L279.16,351.95 L279.21,351.95 L279.26,351.95 L279.31,351.95 L279.36,351.96 L279.41,351.96 L279.46,351.96 L279.51,351.96 L279.56,351.97 L279.60,351.97 L279.65,351.97 L279.70,351.97 L279.75,351.97 L279.80,351.98 L279.85,351.98 L279.90,351.98 L279.95,351.98 L280.00,351.99 L280.05,351.99 L280.09,351.99 L280.14,351.99 L280.19,351.99 L280.24,352.00 L280.29,352.00 L280.34,352.00 L280.39,352.00 L280.44,352.01 L280.49,352.01 L280.53,352.01 L280.58,352.01 L280.63,352.01 L280.68,352.02 L280.73,352.02 L280.78,352.02 L280.83,352.02 L280.88,352.03 L280.93,352.03 L280.98,352.03 L281.02,352.03 L281.07,352.03 L281.12,352.04 L281.17,352.04 L281.22,352.04 L281.27,352.04 L281.32,352.05 L281.37,352.05 L281.42,352.05 L281.47,352.05 L281.51,352.05 L281.56,352.06 L281.61,352.06 L281.66,352.06 L281.71,352.06 L281.76,352.07 L281.81,352.07 L281.86,352.07 L281.91,352.07 L281.96,352.07 L282.00,352.08 L282.05,352.08 L282.10,352.08 L282.15,352.08 L282.20,352.09 L282.25,352.09 L282.30,352.09 L282.35,352.09 L282.40,352.10 L282.45,352.10 L282.50,352.10 L282.54,352.10 L282.59,352.10 L282.64,352.11 L282.69,352.11 L282.74,352.11 L282.79,352.11 L282.84,352.12 L282.89,352.12 L282.94,352.12 L282.99,352.12 L283.03,352.12 L283.08,352.13 L283.13,352.13 L283.18,352.13 L283.23,352.13 L283.28,352.14 L283.33,352.14 L283.38,352.14 L283.43,352.14 L283.48,352.14 L283.52,352.15 L283.57,352.15 L283.62,352.15 L283.67,352.15 L283.72,352.16 L283.77,352.16 L283.82,352.16 L283.87,352.16 L283.92,352.16 L283.97,352.17 L284.01,352.17 L284.06,352.17 L284.11,352.17 L284.16,352.18 L284.21,352.18 L284.26,352.18 L284.31,352.18 L284.36,352.18 L284.41,352.19 L284.46,352.19 L284.50,352.19 L284.55,352.19 L284.60,352.20 L284.65,352.20 L284.70,352.20 L284.75,352.20 L284.80,352.20 L284.85,352.21 L284.90,352.21 L284.94,352.21 L284.99,352.21 L285.04,352.22 L285.09,352.22 L285.14,352.22 L285.19,352.22 L285.24,352.22 L285.29,352.23 L285.34,352.23 L285.39,352.23 L285.44,352.23 L285.48,352.24 L285.53,352.24 L285.58,352.24 L285.63,352.24 L285.68,352.24 L285.73,352.25 L285.78,352.25 L285.83,352.25 L285.88,352.25 L285.93,352.26 L285.97,352.26 L286.02,352.26 L286.07,352.26 L286.12,352.26 L286.17,352.27 L286.22,352.27 L286.27,352.27 L286.32,352.27 L286.37,352.28 L286.42,352.28 L286.46,352.28 L286.51,352.28 L286.56,352.28 L286.61,352.29 L286.66,352.29 L286.71,352.29 L286.76,352.29 L286.81,352.29 L286.86,352.29 L286.91,352.29 L286.95,352.29 L287.00,352.29 L287.05,352.28 L287.10,352.26 L287.15,352.23 L287.20,352.18 L287.25,352.09 L287.30,351.94 L287.35,351.72 L287.39,351.38 L287.44,350.91 L287.49,350.30 L287.54,349.57 L287.59,348.74 L287.64,347.83 L287.69,346.87 L287.74,345.89 L287.79,344.89 L287.84,343.88 L287.88,342.86 L287.93,341.85 L287.98,340.84 L288.03,339.83 L288.08,338.83 L288.13,337.83 L288.18,336.83 L288.23,335.84 L288.28,334.86 L288.33,333.88 L288.38,332.90 L288.42,331.93 L288.47,330.96 L288.52,330.00 L288.57,329.04 L288.62,328.09 L288.67,327.14 L288.72,326.20 L288.77,325.26 L288.82,324.33 L288.87,323.40 L288.91,322.48 L288.96,321.56 L289.01,320.65 L289.06,319.74 L289.11,318.84 L289.16,317.94 L289.21,317.05 L289.26,316.16 L289.31,315.28 L289.36,314.40 L289.40,313.53 L289.45,312.66 L289.50,311.80 L289.55,310.95 L289.60,310.10 L289.65,309.25 L289.70,308.41 L289.75,307.57 L289.80,306.74 L289.85,305.92 L289.89,305.10 L289.94,304.29 L289.99,303.48 L290.04,302.67 L290.09,301.88 L290.14,301.08 L290.19,300.30 L290.24,299.52 L290.29,298.74 L290.34,297.97 L290.38,297.20 L290.43,296.45 L290.48,295.69 L290.53,294.94 L290.58,294.20 L290.63,293.46 L290.68,292.73 L290.73,292.01 L290.78,291.29 L290.83,290.58 L290.87,289.87 L290.92,289.17 L290.97,288.47 L291.02,287.78 L291.07,287.10 L291.12,286.42 L291.17,285.74 L291.22,285.08 L291.27,284.42 L291.32,283.76 L291.36,283.12 L291.41,282.47 L291.46,281.84 L291.51,281.21 L291.56,280.59 L291.61,279.97 L291.66,279.36 L291.71,278.75 L291.76,278.16 L291.81,277.56 L291.85,276.98 L291.90,276.40 L291.95,275.83 L292.00,275.26 L292.05,274.71 L292.10,274.15 L292.15,273.61 L292.20,273.07 L292.25,272.54 L292.30,272.02 L292.34,271.50 L292.39,270.99 L292.44,270.49 L292.49,269.99 L292.54,269.50 L292.59,269.02 L292.64,268.55 L292.69,268.08 L292.74,267.62 L292.78,267.17 L292.83,266.72 L292.88,266.29 L292.93,265.86 L292.98,265.44 L293.03,265.02 L293.08,264.62 L293.13,264.22 L293.18,263.84 L293.23,263.46 L293.27,263.08 L293.32,262.72 L293.37,262.37 L293.42,262.02 L293.47,261.68 L293.52,261.36 L293.57,261.04 L293.62,260.73 L293.67,260.43 L293.72,260.14 L293.76,259.86 L293.81,259.59 L293.86,259.33 L293.91,259.09 L293.96,258.85 L294.01,258.62 L294.06,258.41 L294.11,258.21 L294.16,258.01 L294.21,257.84 L294.25,257.67 L294.30,257.52 L294.35,257.39 L294.40,257.27 L294.45,257.17 L294.50,257.09 L294.55,257.03 L294.60,257.00 L294.65,257.03 L294.70,257.09 L294.75,257.17 L294.79,257.27 L294.84,257.39 L294.89,257.52 L294.94,257.67 L294.99,257.84 L295.04,258.01 L295.09,258.21 L295.14,258.41 L295.19,258.62 L295.24,258.85 L295.28,259.09 L295.33,259.33 L295.38,259.59 L295.43,259.86 L295.48,260.14 L295.53,260.43 L295.58,260.73 L295.63,261.04 L295.68,261.36 L295.73,261.68 L295.77,262.02 L295.82,262.37 L295.87,262.72 L295.92,263.08 L295.97,263.46 L296.02,263.84 L296.07,264.22 L296.12,264.62 L296.17,265.02 L296.22,265.44 L296.26,265.86 L296.31,266.29 L296.36,266.72 L296.41,267.17 L296.46,267.62 L296.51,268.08 L296.56,268.55 L296.61,269.02 L296.66,269.50 L296.71,269.99 L296.75,270.49 L296.80,270.99 L296.85,271.50 L296.90,272.02 L296.95,272.54 L297.00,273.07 L297.05,273.61 L297.10,274.15 L297.15,274.71 L297.19,275.26 L297.24,275.83 L297.29,276.40 L297.34,276.98 L297.39,277.56 L297.44,278.16 L297.49,278.75 L297.54,279.36 L297.59,279.97 L297.64,280.59 L297.69,281.21 L297.73,281.84 L297.78,282.47 L297.83,283.12 L297.88,283.76 L297.93,284.42 L297.98,285.08 L298.03,285.74 L298.08,286.42 L298.13,287.10 L298.18,287.78 L298.22,288.47 L298.27,289.17 L298.32,289.87 L298.37,290.58 L298.42,291.29 L298.47,292.01 L298.52,292.73 L298.57,293.46 L298.62,294.20 L298.67,294.94 L298.71,295.69 L298.76,296.45 L298.81,297.20 L298.86,297.97 L298.91,298.74 L298.96,299.52 L299.01,300.30 L299.06,301.08 L299.11,301.88 L299.16,302.67 L299.20,303.48 L299.25,304.29 L299.30,305.10 L299.35,305.92 L299.40,306.74 L299.45,307.57 L299.50,308.41 L299.55,309.25 L299.60,310.10 L299.64,310.95 L299.69,311.80 L299.74,312.66 L299.79,313.53 L299.84,314.40 L299.89,315.28 L299.94,316.16 L299.99,317.05 L300.04,317.94 L300.09,318.84 L300.13,319.74 L300.18,320.65 L300.23,321.56 L300.28,322.48 L300.33,323.40 L300.38,324.33 L300.43,325.26 L300.48,326.20 L300.53,327.14 L300.58,328.09 L300.62,329.04 L300.67,330.00 L300.72,330.96 L300.77,331.93 L300.82,332.90 L300.87,333.88 L300.92,334.86 L300.97,335.84 L301.02,336.83 L301.07,337.83 L301.12,338.83 L301.16,339.83 L301.21,340.84 L301.26,341.85 L301.31,342.87 L301.36,343.88 L301.41,344.90 L301.46,345.91 L301.51,346.91 L301.56,347.89 L301.61,348.83 L301.65,349.71 L301.70,350.51 L301.75,351.20 L301.80,351.76 L301.85,352.18 L301.90,352.48 L301.95,352.68 L302.00,352.80 L302.05,352.88 L302.10,352.93 L302.14,352.96 L302.19,352.97 L302.24,352.99 L302.29,352.99 L302.34,353.00 L302.39,353.00 L302.44,353.01 L302.49,353.01 L302.54,353.01 L302.59,353.01 L302.63,353.02 L302.68,353.02 L302.73,353.02 L302.78,353.02 L302.83,353.02 L302.88,353.03 L302.93,353.03 L302.98,353.03 L303.03,353.03 L303.08,353.04 L303.12,353.04 L303.17,353.04 L303.22,353.04 L303.27,353.04 L303.32,353.05 L303.37,353.05 L303.42,353.05 L303.47,353.05 L303.52,353.06 L303.57,353.06 L303.61,353.06 L303.66,353.06 L303.71,353.06 L303.76,353.07 L303.81,353.07 L303.86,353.07 L303.91,353.07 L303.96,353.08 L304.01,353.08 L304.06,353.08 L304.10,353.08 L304.15,353.08 L304.20,353.09 L304.25,353.09 L304.30,353.09 L304.35,353.09 L304.40,353.10 L304.45,353.10 L304.50,353.10 L304.55,353.10 L304.59,353.10 L304.64,353.11 L304.69,353.11 L304.74,353.11 L304.79,353.11 L304.84,353.12 L304.89,353.12 L304.94,353.12 L304.99,353.12 L305.04,353.12 L305.08,353.13 L305.13,353.13 L305.18,353.13 L305.23,353.13 L305.28,353.14 L305.33,353.14 L305.38,353.14 L305.43,353.14 L305.48,353.14 L305.53,353.15 L305.57,353.15 L305.62,353.15 L305.67,353.15 L305.72,353.16 L305.77,353.16 L305.82,353.16 L305.87,353.16 L305.92,353.16 L305.97,353.17 L306.02,353.17 L306.06,353.17 L306.11,353.17 L306.16,353.18 L306.21,353.18 L306.26,353.18 L306.31,353.18 L306.36,353.18 L306.41,353.19 L306.46,353.19 L306.51,353.19 L306.55,353.19 L306.60,353.20 L306.65,353.20 L306.70,353.20 L306.75,353.20 L306.80,353.20 L306.85,353.21 L306.90,353.21 L306.95,353.21 L307.00,353.21 L307.04,353.22 L307.09,353.22 L307.14,353.22 L307.19,353.22 L307.24,353.22 L307.29,353.23 L307.34,353.23 L307.39,353.23 L307.44,353.23 L307.49,353.24 L307.53,353.24 L307.58,353.24 L307.63,353.24 L307.68,353.25 L307.73,353.25 L307.78,353.25 L307.83,353.25 L307.88,353.25 L307.93,353.26 L307.98,353.26 L308.02,353.26 L308.07,353.26 L308.12,353.27 L308.17,353.27 L308.22,353.27 L308.27,353.27 L308.32,353.27 L308.37,353.28 L308.42,353.28 L308.47,353.28 L308.51,353.28 L308.56,353.29 L308.61,353.29 L308.66,353.29 L308.71,353.29 L308.76,353.29 L308.81,353.30 L308.86,353.30 L308.91,353.30 L308.96,353.30 L309.00,353.31 L309.05,353.31 L309.10,353.31 L309.15,353.31 L309.20,353.31 L309.25,353.32 L309.30,353.32 L309.35,353.32 L309.40,353.32 L309.44,353.33 L309.49,353.33 L309.54,353.33 L309.59,353.33 L309.64,353.33 L309.69,353.34 L309.74,353.34 L309.79,353.34 L309.84,353.34 L309.89,353.35 L309.94,353.35 L309.98,353.35 L310.03,353.35 L310.08,353.35 L310.13,353.36 L310.18,353.36 L310.23,353.36 L310.28,353.36 L310.33,353.37 L310.38,353.37 L310.43,353.37 L310.47,353.37 L310.52,353.37 L310.57,353.38 L310.62,353.38 L310.67,353.38 L310.72,353.38 L310.77,353.39 L310.82,353.39 L310.87,353.39 L310.92,353.39 L310.96,353.39 L311.01,353.40 L311.06,353.40 L311.11,353.40 L311.16,353.40 L311.21,353.41 L311.26,353.41 L311.31,353.41 L311.36,353.41 L311.41,353.41 L311.45,353.42 L311.50,353.42 L311.55,353.42 L311.60,353.42 L311.65,353.43 L311.70,353.43 L311.75,353.43 L311.80,353.43 L311.85,353.43 L311.89,353.44 L311.94,353.44 L311.99,353.44 L312.04,353.44 L312.09,353.45 L312.14,353.45 L312.19,353.45 L312.24,353.45 L312.29,353.45 L312.34,353.46 L312.38,353.46 L312.43,353.46 L312.48,353.46 L312.53,353.47 L312.58,353.47 L312.63,353.47 L312.68,353.47 L312.73,353.47 L312.78,353.48 L312.83,353.48 L312.88,353.48 L312.92,353.48 L312.97,353.49 L313.02,353.49 L313.07,353.49 L313.12,353.49 L313.17,353.49 L313.22,353.50 L313.27,353.50 L313.32,353.50 L313.37,353.50 L313.41,353.51 L313.46,353.51 L313.51,353.51 L313.56,353.51 L313.61,353.51 L313.66,353.52 L313.71,353.52 L313.76,353.52 L313.81,353.52 L313.86,353.53 L313.90,353.53 L313.95,353.53 L314.00,353.53 L314.05,353.53 L314.10,353.54 L319.00,353.76 L323.90,353.98 L328.80,354.21 L333.70,354.43 L338.60,354.65 L343.50,354.87" stroke="#1a8466"/></g>
<text x="49.50" y="112.20" text-anchor="middle" class="t">0</text>
<text x="98.50" y="112.20" text-anchor="middle" class="t">10</text>
<text x="147.50" y="112.20" text-anchor="middle" class="t">20</text>
<text x="196.50" y="112.20" text-anchor="middle" class="t">30</text>
<text x="245.50" y="112.20" text-anchor="middle" class="t">40</text>
<text x="294.50" y="112.20" text-anchor="middle" class="t">50</text>
<text x="343.50" y="112.20" text-anchor="middle" class="t">60</text>
<text x="196.8" y="125.9" text-anchor="middle" class="t" style="font-size:13.4px">z (Mm)</text>
<text x="49.50" y="239.20" text-anchor="middle" class="t">0</text>
<text x="98.50" y="239.20" text-anchor="middle" class="t">10</text>
<text x="147.50" y="239.20" text-anchor="middle" class="t">20</text>
<text x="196.50" y="239.20" text-anchor="middle" class="t">30</text>
<text x="245.50" y="239.20" text-anchor="middle" class="t">40</text>
<text x="294.50" y="239.20" text-anchor="middle" class="t">50</text>
<text x="343.50" y="239.20" text-anchor="middle" class="t">60</text>
<text x="196.8" y="252.9" text-anchor="middle" class="t" style="font-size:13.4px">z (Mm)</text>
<text x="49.50" y="373.50" text-anchor="middle" class="t">0</text>
<text x="98.50" y="373.50" text-anchor="middle" class="t">10</text>
<text x="147.50" y="373.50" text-anchor="middle" class="t">20</text>
<text x="196.50" y="373.50" text-anchor="middle" class="t">30</text>
<text x="245.50" y="373.50" text-anchor="middle" class="t">40</text>
<text x="294.50" y="373.50" text-anchor="middle" class="t">50</text>
<text x="343.50" y="373.50" text-anchor="middle" class="t">60</text>
<text x="196.8" y="386.9" text-anchor="middle" class="t" style="font-size:13.4px">z (Mm)</text>
<text x="46.4" y="12.00" text-anchor="end" class="t">10<tspan class="s" dy="-5.5">3</tspan></text>
<text x="46.4" y="31.00" text-anchor="end" class="t">10<tspan class="s" dy="-5.5">2</tspan></text>
<text x="46.4" y="54.20" text-anchor="end" class="t">10<tspan class="s" dy="-5.5">1</tspan></text>
<text x="46.4" y="77.00" text-anchor="end" class="t">10<tspan class="s" dy="-5.5">0</tspan></text>
<text x="46.4" y="94.90" text-anchor="end" class="t">10<tspan class="m" dy="-6">-</tspan><tspan class="s" dy="0.5">1</tspan></text>
<text x="46.3" y="138.8" text-anchor="end" class="t">1.0</text>
<text x="46.3" y="153.5" text-anchor="end" class="t">0.8</text>
<text x="46.3" y="171.9" text-anchor="end" class="t">0.6</text>
<text x="46.3" y="190.1" text-anchor="end" class="t">0.4</text>
<text x="46.3" y="208.1" text-anchor="end" class="t">0.2</text>
<text x="46.3" y="221.5" text-anchor="end" class="t">0.0</text>
<text x="46.4" y="265.40" text-anchor="end" class="t">10<tspan class="m" dy="-6">-</tspan><tspan class="s" dy="0.5">6</tspan></text>
<text x="46.4" y="285.50" text-anchor="end" class="t">10<tspan class="m" dy="-6">-</tspan><tspan class="s" dy="0.5">7</tspan></text>
<text x="46.4" y="308.50" text-anchor="end" class="t">10<tspan class="m" dy="-6">-</tspan><tspan class="s" dy="0.5">8</tspan></text>
<text x="46.4" y="331.00" text-anchor="end" class="t">10<tspan class="m" dy="-6">-</tspan><tspan class="s" dy="0.5">9</tspan></text>
<text x="46.4" y="353.80" text-anchor="end" class="t">10<tspan class="m" dy="-6">-</tspan><tspan class="s" dy="0.5">10</tspan></text>
<text transform="translate(16.2,49.5) rotate(-90)" text-anchor="middle" class="t">ρ<tspan class="s" dy="3">s</tspan><tspan dy="-3"> (10</tspan><tspan class="m" dy="-7.1">-</tspan><tspan class="s" dy="0.5">12</tspan><tspan dy="6.6"> kg m</tspan><tspan class="m" dy="-7.1">-</tspan><tspan class="s" dy="0.5">3</tspan><tspan dy="6.6">)</tspan></text>
<text transform="translate(18.8,175.8) rotate(-90)" text-anchor="middle" class="t">χ<tspan class="s" dy="3">s</tspan></text>
<text transform="translate(11.6,306.6) rotate(-90)" text-anchor="middle" class="t">αρ<tspan class="s" dy="3">e</tspan><tspan dy="-3">ρ</tspan><tspan class="s" dy="3">n</tspan><tspan dy="-3"> (kg m</tspan><tspan class="m" dy="-7.4">-</tspan><tspan class="s" dy="0.5">3</tspan><tspan dy="6.9"> s</tspan><tspan class="m" dy="-7.4">-</tspan><tspan class="s" dy="0.5">1</tspan><tspan dy="6.9">)</tspan></text>
</svg>
</body></html>
